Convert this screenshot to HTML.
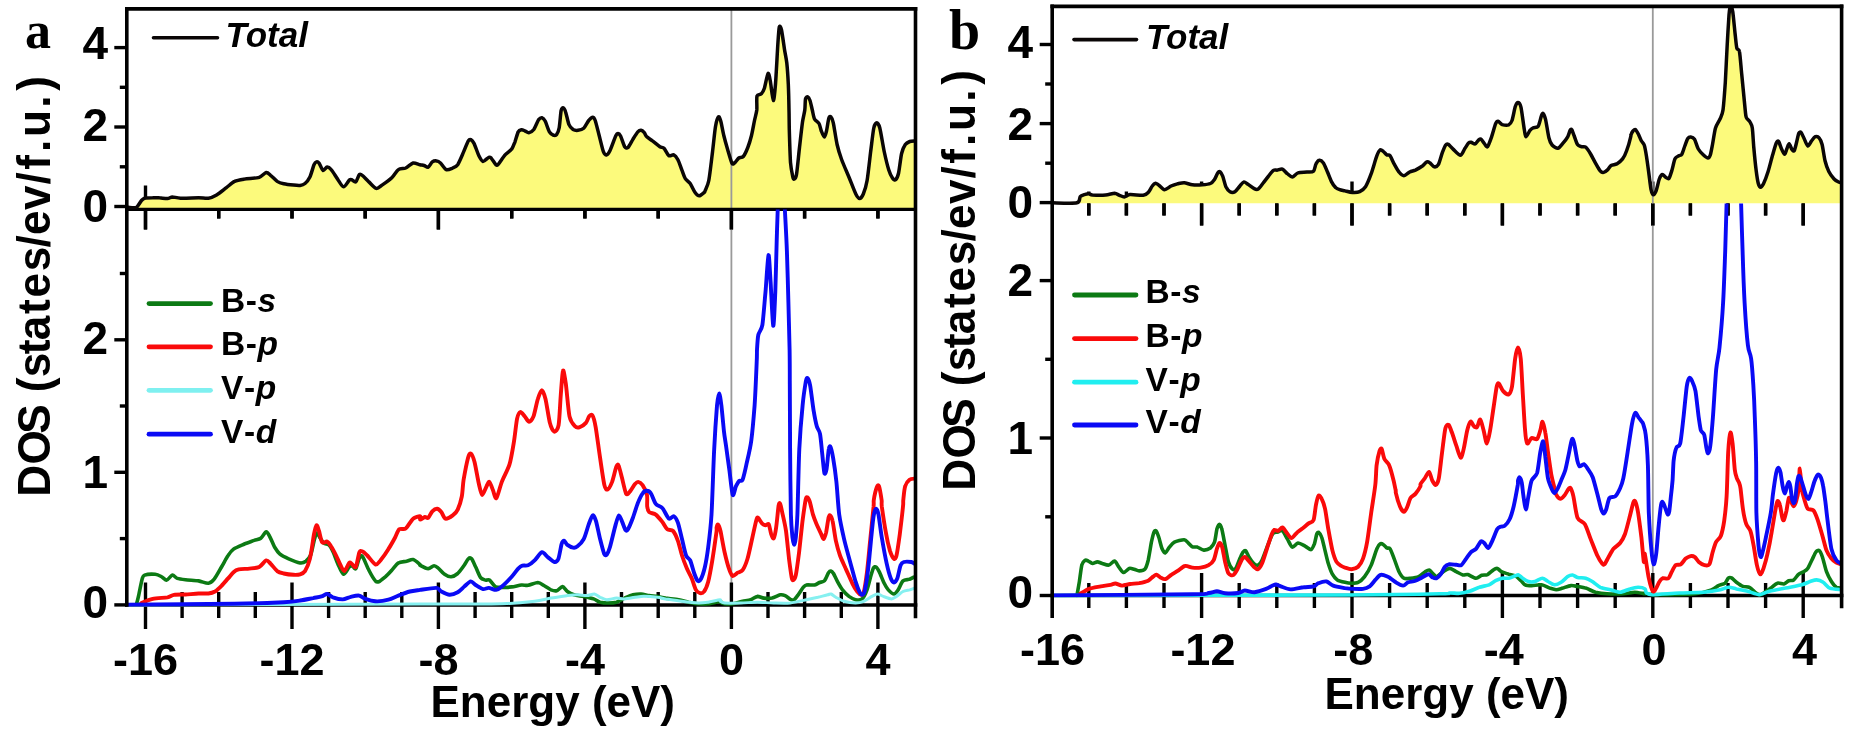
<!DOCTYPE html>
<html><head><meta charset="utf-8"><title>DOS</title>
<style>html,body{margin:0;padding:0;background:#fff}body{width:1850px;height:733px;overflow:hidden}</style>
</head><body>
<svg width="1850" height="733" viewBox="0 0 1850 733" style="display:block;filter:blur(0.6px)">
<rect width="1850" height="733" fill="#fff"/>
<clipPath id="cua"><rect x="126.8" y="8.9" width="788.7" height="199.3"/></clipPath>
<clipPath id="csa"><rect x="126.8" y="8.9" width="788.7" height="201.5"/></clipPath>
<clipPath id="cla"><rect x="126.8" y="209.4" width="788.7" height="397.6"/></clipPath>
<line x1="145.5" y1="185.5" x2="145.5" y2="229.5" stroke="#000" stroke-width="3.4" stroke-linecap="butt"/>
<line x1="218.7" y1="196.5" x2="218.7" y2="218.5" stroke="#000" stroke-width="3.4" stroke-linecap="butt"/>
<line x1="292" y1="196.5" x2="292" y2="218.5" stroke="#000" stroke-width="3.4" stroke-linecap="butt"/>
<line x1="365.2" y1="196.5" x2="365.2" y2="218.5" stroke="#000" stroke-width="3.4" stroke-linecap="butt"/>
<line x1="438.4" y1="185.5" x2="438.4" y2="229.5" stroke="#000" stroke-width="3.4" stroke-linecap="butt"/>
<line x1="511.7" y1="196.5" x2="511.7" y2="218.5" stroke="#000" stroke-width="3.4" stroke-linecap="butt"/>
<line x1="584.9" y1="196.5" x2="584.9" y2="218.5" stroke="#000" stroke-width="3.4" stroke-linecap="butt"/>
<line x1="658.2" y1="196.5" x2="658.2" y2="218.5" stroke="#000" stroke-width="3.4" stroke-linecap="butt"/>
<line x1="731.4" y1="185.5" x2="731.4" y2="229.5" stroke="#000" stroke-width="3.4" stroke-linecap="butt"/>
<line x1="804.6" y1="196.5" x2="804.6" y2="218.5" stroke="#000" stroke-width="3.4" stroke-linecap="butt"/>
<line x1="877.9" y1="196.5" x2="877.9" y2="218.5" stroke="#000" stroke-width="3.4" stroke-linecap="butt"/>
<g clip-path="url(#cua)">
<path d="M128.2 207.3C129.3 207.3 134.6 208.1 136.4 207.3C138.1 206.4 140.2 201.9 141.3 200.7C142.4 199.5 143 198.6 144.6 198.2C146.1 197.9 150.8 197.8 152.7 197.8C154.7 197.7 157.3 197.6 159.3 197.8C161.3 197.9 165.7 198.7 167.5 198.6C169.2 198.5 170.7 197 172.4 196.9C174.1 196.9 177.1 198.1 180.6 198.2C184.1 198.4 194.9 197.8 198.6 197.8C202.3 197.8 206 198.6 208.4 198.2C210.8 197.9 214.2 196.4 216.6 195C219 193.6 224 189.4 226.4 187.6C228.8 185.8 232.2 182.5 234.6 181.4C237 180.2 241.2 179.6 244.4 179.1C247.7 178.5 256.3 178.2 259.2 177.3C262.1 176.4 264.7 172.8 266.2 172.5C267.8 172.3 269.2 174.1 270.6 175.3C272.1 176.5 275.5 180.2 277.2 181.4C278.9 182.5 281.6 183.3 283.7 183.8C285.9 184.3 291.4 184.9 293.6 185.1C295.8 185.4 298.6 185.7 300.1 185.5C301.6 185.3 303.7 184.6 305 183.5C306.3 182.4 308.7 179.5 309.9 177C311.1 174.5 313.2 166.7 314 164.7C314.9 162.7 315.8 162.1 316.5 161.9C317.2 161.7 318.1 161.9 319 163C319.8 164.2 322 169.9 323 170.4C324.1 171 326 167.2 327.1 167.1C328.2 167 329.8 168 331.2 169.6C332.7 171.2 336.1 177.1 337.8 179.4C339.4 181.7 342 186.7 343.5 186.8C345 186.9 348.2 181.2 349.2 180.2C350.3 179.3 350.8 179.5 351.7 179.7C352.6 180 354.8 182.6 355.8 181.9C356.8 181.2 358.5 175.4 359.4 174.5C360.3 173.6 361.1 174.3 362.3 175.3C363.6 176.3 367 180.1 368.9 181.9C370.8 183.6 374.5 188 376.3 188.4C378 188.9 379.9 186.6 382 185.1C384.1 183.7 389.6 179.9 391.8 177.8C394 175.7 396.5 170.9 398.4 169.6C400.2 168.3 403.8 168.8 405.7 168C407.7 167.1 411.2 163.5 413.1 163C415 162.6 418.5 164.4 420 164.7C421.4 165 423 165.2 424.1 165.5C425.2 165.8 427.1 167.6 428.2 167.1C429.3 166.7 431.2 162.7 432.3 161.9C433.4 161.1 435.3 160.8 436.4 160.9C437.5 161.1 439.2 161.9 440.5 163C441.8 164.2 444.6 168.9 446.2 169.6C447.8 170.2 451.2 168.6 452.7 168C454.3 167.3 456.2 166.8 457.7 164.7C459.1 162.6 462 155.6 463.4 152.4C464.8 149.2 467.3 142.6 468.3 140.9C469.3 139.2 470 139.3 470.8 139.6C471.5 140 472.9 141.3 474 143.4C475.1 145.5 477.7 153.3 478.9 155.7C480.1 158.1 481.7 161.2 483 161.4C484.4 161.6 487.7 157.7 488.8 157.3C489.9 156.9 490.2 157.1 491.2 158.1C492.2 159.2 495.2 164.2 496.1 165C497.1 165.8 497.4 165.2 498.6 163.9C499.8 162.5 503.4 156.8 505.1 154.9C506.9 152.9 510.4 150.9 511.7 149.1C513 147.4 514.1 144 515 141.8C515.8 139.5 517.4 133.5 518.2 131.9C519.1 130.3 520.6 130 521.5 129.8C522.4 129.6 523.8 130.4 524.8 130.8C525.8 131.2 527.7 132.9 528.9 132.7C530.1 132.6 532.5 131.2 533.8 129.5C535.1 127.7 537.6 121.2 538.7 119.6C539.8 118.1 541.1 117.5 542 117.7C542.9 117.9 544.3 119.4 545.3 121.3C546.2 123.2 548.3 130.1 549.4 131.9C550.5 133.8 552.5 134.9 553.5 135.2C554.4 135.5 556 135.4 556.7 134.4C557.5 133.4 558.6 131 559.2 127.8C559.8 124.7 560.6 113.3 561.1 110.6C561.7 108 562.7 107.6 563.3 107.9C563.9 108.1 565 110.1 565.7 112.3C566.5 114.5 568 122.3 569 124.6C570 126.9 571.9 128.7 573.1 129.5C574.3 130.2 576.6 130.5 578 130.3C579.4 130.1 582.3 129.5 583.7 128.2C585.2 126.9 587.5 121.9 588.7 120.5C589.9 119 591.9 117.2 592.8 117.2C593.6 117.2 594.3 118 595.2 120.5C596.1 123 598.2 131.9 599.3 136C600.4 140.2 602.4 149.1 603.4 151.6C604.4 154.1 605.8 155 606.7 154.9C607.5 154.7 608.7 153.3 609.9 150.8C611.1 148.3 614.6 138.3 615.7 136C616.8 133.7 617.5 133.6 618.1 133.6C618.8 133.6 619.7 134.3 620.6 136C621.5 137.8 623.7 145.1 624.7 146.7C625.7 148.2 626.9 148.5 628 147.5C629 146.5 631.6 141.4 632.9 139.3C634.2 137.2 636.7 133.1 637.8 131.9C638.9 130.7 640.2 130.2 641.1 130.3C641.9 130.4 643.6 131.9 644.3 132.7C645.1 133.6 645.7 135.8 646.8 136.8C647.9 137.9 650.8 139.6 652.5 140.9C654.3 142.2 658.4 145.7 659.9 146.7C661.4 147.7 662.8 147.1 664 148.3C665.2 149.5 667.6 154.8 668.9 155.7C670.2 156.5 672.6 154.3 673.8 154.9C675 155.4 676.8 157.7 677.9 159.8C679 161.8 681 167.9 682 170.4C683 172.9 684.2 176.9 685.3 178.6C686.4 180.3 688.9 181.7 690.2 183.5C691.5 185.4 693.9 190.9 695.1 192.5C696.3 194.2 698 195.8 699.2 195.8C700.4 195.8 703.3 193.2 704.1 192.5C704.9 191.9 704.4 192.6 705 191C705.6 189.4 707.8 185.7 708.8 180.5C709.8 175.3 711.6 159.2 712.5 152C713.4 144.8 714.7 131.2 715.5 126.5C716.3 121.8 717.8 117.5 718.5 116.8C719.2 116.1 720.1 118.8 720.8 121.3C721.5 123.8 722.9 131.8 723.8 135.5C724.7 139.2 726.4 145.3 727.5 149C728.6 152.7 731 161.5 732 163.3C733 165.1 734.1 163.2 735 162.5C735.9 161.8 737.7 158.8 738.8 158C739.9 157.2 742.1 157.9 743.3 156.5C744.5 155.1 746.7 150.3 747.8 147.5C748.9 144.7 750.6 139.1 751.5 135.5C752.4 131.9 753.8 123.9 754.5 120.5C755.2 117.1 756.4 113.3 756.8 110C757.1 106.7 756.4 98.2 757 96C757.6 93.9 760.3 94.8 761.3 93.8C762.2 92.8 763.4 91.2 764.3 88.5C765.2 85.8 767.2 74.5 768 73.5C768.8 72.5 769.6 77.4 770.3 81C771 84.6 772.6 100.1 773.3 100.5C774 100.9 774.9 91.4 775.5 84C776.1 76.6 777.3 52.6 777.8 45C778.3 37.4 778.8 29 779.3 27C779.8 25 780.8 27 781.5 30C782.2 33 783.8 45.1 784.5 49.5C785.2 53.9 786.3 58.4 786.8 63C787.3 67.6 788 77.8 788.3 84C788.6 90.3 788.9 103.9 789 110C789.2 116.1 789.1 122.5 789.3 129.5C789.5 136.5 790.1 156.2 790.5 162.5C791 168.8 792.3 174.6 792.8 176.8C793.3 179 793.8 179.3 794.3 179C794.8 178.7 795.8 178.7 796.5 174.5C797.2 170.3 798.7 154.5 799.5 147.5C800.3 140.5 801.8 127 802.5 122C803.2 117 804.4 113.1 804.8 110C805.2 106.9 805.1 100.8 805.5 99C805.9 97.3 807.2 96.6 807.8 96.8C808.4 97 809.4 98.8 810 100.5C810.6 102.3 811.7 107.5 812.3 110C812.9 112.5 813.6 117.2 814.5 119C815.4 120.8 818.1 121.9 819 123.5C819.9 125.1 820.6 129.2 821.3 131C822 132.8 823.6 137 824.3 137C825 137 825.9 133.5 826.5 131C827.1 128.5 828.2 120.2 828.8 118.3C829.4 116.4 830.2 116.2 830.8 116.8C831.4 117.4 832.5 119.1 833.3 122.8C834.1 126.5 836 139.6 837.1 144.5C838.2 149.4 840 155.1 841.6 159.5C843.2 163.9 847.2 172.9 849.1 177.5C851 182.1 854.4 191.2 855.8 194C857.2 196.8 858.6 198.5 859.6 198.5C860.6 198.5 862.3 196.4 863.3 194C864.3 191.6 866.1 186.3 867.1 180.5C868.1 174.7 869.9 157.5 870.8 150.5C871.7 143.5 873 131.7 873.8 128C874.6 124.3 876 122.8 876.8 122.8C877.6 122.8 878.8 124.1 879.8 128C880.8 131.9 883.1 146.4 884.3 152C885.5 157.6 887.7 166.5 888.8 170C889.9 173.5 891.7 177 892.6 178.3C893.5 179.6 894.8 180.5 895.6 179.8C896.4 179.1 897.8 176.5 898.6 173C899.4 169.5 900.7 157.3 901.6 153.5C902.5 149.7 904.2 146.1 905.3 144.5C906.4 142.9 908.5 142 909.8 141.5C911.1 141 914.4 140.9 915.1 140.8L915.1 208.2L128.2 208.2Z" fill="#fcfa7c" stroke="none"/>
</g>
<line x1="731.4" y1="8.9" x2="731.4" y2="605" stroke="#9a9a9a" stroke-width="1.8" stroke-linecap="butt"/>
<line x1="145.5" y1="208.2" x2="145.5" y2="229.5" stroke="#000" stroke-width="3.4" stroke-linecap="butt"/>
<line x1="218.7" y1="208.2" x2="218.7" y2="218.5" stroke="#000" stroke-width="3.4" stroke-linecap="butt"/>
<line x1="292" y1="208.2" x2="292" y2="218.5" stroke="#000" stroke-width="3.4" stroke-linecap="butt"/>
<line x1="365.2" y1="208.2" x2="365.2" y2="218.5" stroke="#000" stroke-width="3.4" stroke-linecap="butt"/>
<line x1="438.4" y1="208.2" x2="438.4" y2="229.5" stroke="#000" stroke-width="3.4" stroke-linecap="butt"/>
<line x1="511.7" y1="208.2" x2="511.7" y2="218.5" stroke="#000" stroke-width="3.4" stroke-linecap="butt"/>
<line x1="584.9" y1="208.2" x2="584.9" y2="218.5" stroke="#000" stroke-width="3.4" stroke-linecap="butt"/>
<line x1="658.2" y1="208.2" x2="658.2" y2="218.5" stroke="#000" stroke-width="3.4" stroke-linecap="butt"/>
<line x1="731.4" y1="208.2" x2="731.4" y2="229.5" stroke="#000" stroke-width="3.4" stroke-linecap="butt"/>
<line x1="804.6" y1="208.2" x2="804.6" y2="218.5" stroke="#000" stroke-width="3.4" stroke-linecap="butt"/>
<line x1="877.9" y1="208.2" x2="877.9" y2="218.5" stroke="#000" stroke-width="3.4" stroke-linecap="butt"/>
<line x1="126.8" y1="209.4" x2="915.5" y2="209.4" stroke="#000" stroke-width="3.4" stroke-linecap="butt"/>
<g clip-path="url(#csa)">
<path d="M128.2 207.3C129.3 207.3 134.6 208.1 136.4 207.3C138.1 206.4 140.2 201.9 141.3 200.7C142.4 199.5 143 198.6 144.6 198.2C146.1 197.9 150.8 197.8 152.7 197.8C154.7 197.7 157.3 197.6 159.3 197.8C161.3 197.9 165.7 198.7 167.5 198.6C169.2 198.5 170.7 197 172.4 196.9C174.1 196.9 177.1 198.1 180.6 198.2C184.1 198.4 194.9 197.8 198.6 197.8C202.3 197.8 206 198.6 208.4 198.2C210.8 197.9 214.2 196.4 216.6 195C219 193.6 224 189.4 226.4 187.6C228.8 185.8 232.2 182.5 234.6 181.4C237 180.2 241.2 179.6 244.4 179.1C247.7 178.5 256.3 178.2 259.2 177.3C262.1 176.4 264.7 172.8 266.2 172.5C267.8 172.3 269.2 174.1 270.6 175.3C272.1 176.5 275.5 180.2 277.2 181.4C278.9 182.5 281.6 183.3 283.7 183.8C285.9 184.3 291.4 184.9 293.6 185.1C295.8 185.4 298.6 185.7 300.1 185.5C301.6 185.3 303.7 184.6 305 183.5C306.3 182.4 308.7 179.5 309.9 177C311.1 174.5 313.2 166.7 314 164.7C314.9 162.7 315.8 162.1 316.5 161.9C317.2 161.7 318.1 161.9 319 163C319.8 164.2 322 169.9 323 170.4C324.1 171 326 167.2 327.1 167.1C328.2 167 329.8 168 331.2 169.6C332.7 171.2 336.1 177.1 337.8 179.4C339.4 181.7 342 186.7 343.5 186.8C345 186.9 348.2 181.2 349.2 180.2C350.3 179.3 350.8 179.5 351.7 179.7C352.6 180 354.8 182.6 355.8 181.9C356.8 181.2 358.5 175.4 359.4 174.5C360.3 173.6 361.1 174.3 362.3 175.3C363.6 176.3 367 180.1 368.9 181.9C370.8 183.6 374.5 188 376.3 188.4C378 188.9 379.9 186.6 382 185.1C384.1 183.7 389.6 179.9 391.8 177.8C394 175.7 396.5 170.9 398.4 169.6C400.2 168.3 403.8 168.8 405.7 168C407.7 167.1 411.2 163.5 413.1 163C415 162.6 418.5 164.4 420 164.7C421.4 165 423 165.2 424.1 165.5C425.2 165.8 427.1 167.6 428.2 167.1C429.3 166.7 431.2 162.7 432.3 161.9C433.4 161.1 435.3 160.8 436.4 160.9C437.5 161.1 439.2 161.9 440.5 163C441.8 164.2 444.6 168.9 446.2 169.6C447.8 170.2 451.2 168.6 452.7 168C454.3 167.3 456.2 166.8 457.7 164.7C459.1 162.6 462 155.6 463.4 152.4C464.8 149.2 467.3 142.6 468.3 140.9C469.3 139.2 470 139.3 470.8 139.6C471.5 140 472.9 141.3 474 143.4C475.1 145.5 477.7 153.3 478.9 155.7C480.1 158.1 481.7 161.2 483 161.4C484.4 161.6 487.7 157.7 488.8 157.3C489.9 156.9 490.2 157.1 491.2 158.1C492.2 159.2 495.2 164.2 496.1 165C497.1 165.8 497.4 165.2 498.6 163.9C499.8 162.5 503.4 156.8 505.1 154.9C506.9 152.9 510.4 150.9 511.7 149.1C513 147.4 514.1 144 515 141.8C515.8 139.5 517.4 133.5 518.2 131.9C519.1 130.3 520.6 130 521.5 129.8C522.4 129.6 523.8 130.4 524.8 130.8C525.8 131.2 527.7 132.9 528.9 132.7C530.1 132.6 532.5 131.2 533.8 129.5C535.1 127.7 537.6 121.2 538.7 119.6C539.8 118.1 541.1 117.5 542 117.7C542.9 117.9 544.3 119.4 545.3 121.3C546.2 123.2 548.3 130.1 549.4 131.9C550.5 133.8 552.5 134.9 553.5 135.2C554.4 135.5 556 135.4 556.7 134.4C557.5 133.4 558.6 131 559.2 127.8C559.8 124.7 560.6 113.3 561.1 110.6C561.7 108 562.7 107.6 563.3 107.9C563.9 108.1 565 110.1 565.7 112.3C566.5 114.5 568 122.3 569 124.6C570 126.9 571.9 128.7 573.1 129.5C574.3 130.2 576.6 130.5 578 130.3C579.4 130.1 582.3 129.5 583.7 128.2C585.2 126.9 587.5 121.9 588.7 120.5C589.9 119 591.9 117.2 592.8 117.2C593.6 117.2 594.3 118 595.2 120.5C596.1 123 598.2 131.9 599.3 136C600.4 140.2 602.4 149.1 603.4 151.6C604.4 154.1 605.8 155 606.7 154.9C607.5 154.7 608.7 153.3 609.9 150.8C611.1 148.3 614.6 138.3 615.7 136C616.8 133.7 617.5 133.6 618.1 133.6C618.8 133.6 619.7 134.3 620.6 136C621.5 137.8 623.7 145.1 624.7 146.7C625.7 148.2 626.9 148.5 628 147.5C629 146.5 631.6 141.4 632.9 139.3C634.2 137.2 636.7 133.1 637.8 131.9C638.9 130.7 640.2 130.2 641.1 130.3C641.9 130.4 643.6 131.9 644.3 132.7C645.1 133.6 645.7 135.8 646.8 136.8C647.9 137.9 650.8 139.6 652.5 140.9C654.3 142.2 658.4 145.7 659.9 146.7C661.4 147.7 662.8 147.1 664 148.3C665.2 149.5 667.6 154.8 668.9 155.7C670.2 156.5 672.6 154.3 673.8 154.9C675 155.4 676.8 157.7 677.9 159.8C679 161.8 681 167.9 682 170.4C683 172.9 684.2 176.9 685.3 178.6C686.4 180.3 688.9 181.7 690.2 183.5C691.5 185.4 693.9 190.9 695.1 192.5C696.3 194.2 698 195.8 699.2 195.8C700.4 195.8 703.3 193.2 704.1 192.5C704.9 191.9 704.4 192.6 705 191C705.6 189.4 707.8 185.7 708.8 180.5C709.8 175.3 711.6 159.2 712.5 152C713.4 144.8 714.7 131.2 715.5 126.5C716.3 121.8 717.8 117.5 718.5 116.8C719.2 116.1 720.1 118.8 720.8 121.3C721.5 123.8 722.9 131.8 723.8 135.5C724.7 139.2 726.4 145.3 727.5 149C728.6 152.7 731 161.5 732 163.3C733 165.1 734.1 163.2 735 162.5C735.9 161.8 737.7 158.8 738.8 158C739.9 157.2 742.1 157.9 743.3 156.5C744.5 155.1 746.7 150.3 747.8 147.5C748.9 144.7 750.6 139.1 751.5 135.5C752.4 131.9 753.8 123.9 754.5 120.5C755.2 117.1 756.4 113.3 756.8 110C757.1 106.7 756.4 98.2 757 96C757.6 93.9 760.3 94.8 761.3 93.8C762.2 92.8 763.4 91.2 764.3 88.5C765.2 85.8 767.2 74.5 768 73.5C768.8 72.5 769.6 77.4 770.3 81C771 84.6 772.6 100.1 773.3 100.5C774 100.9 774.9 91.4 775.5 84C776.1 76.6 777.3 52.6 777.8 45C778.3 37.4 778.8 29 779.3 27C779.8 25 780.8 27 781.5 30C782.2 33 783.8 45.1 784.5 49.5C785.2 53.9 786.3 58.4 786.8 63C787.3 67.6 788 77.8 788.3 84C788.6 90.3 788.9 103.9 789 110C789.2 116.1 789.1 122.5 789.3 129.5C789.5 136.5 790.1 156.2 790.5 162.5C791 168.8 792.3 174.6 792.8 176.8C793.3 179 793.8 179.3 794.3 179C794.8 178.7 795.8 178.7 796.5 174.5C797.2 170.3 798.7 154.5 799.5 147.5C800.3 140.5 801.8 127 802.5 122C803.2 117 804.4 113.1 804.8 110C805.2 106.9 805.1 100.8 805.5 99C805.9 97.3 807.2 96.6 807.8 96.8C808.4 97 809.4 98.8 810 100.5C810.6 102.3 811.7 107.5 812.3 110C812.9 112.5 813.6 117.2 814.5 119C815.4 120.8 818.1 121.9 819 123.5C819.9 125.1 820.6 129.2 821.3 131C822 132.8 823.6 137 824.3 137C825 137 825.9 133.5 826.5 131C827.1 128.5 828.2 120.2 828.8 118.3C829.4 116.4 830.2 116.2 830.8 116.8C831.4 117.4 832.5 119.1 833.3 122.8C834.1 126.5 836 139.6 837.1 144.5C838.2 149.4 840 155.1 841.6 159.5C843.2 163.9 847.2 172.9 849.1 177.5C851 182.1 854.4 191.2 855.8 194C857.2 196.8 858.6 198.5 859.6 198.5C860.6 198.5 862.3 196.4 863.3 194C864.3 191.6 866.1 186.3 867.1 180.5C868.1 174.7 869.9 157.5 870.8 150.5C871.7 143.5 873 131.7 873.8 128C874.6 124.3 876 122.8 876.8 122.8C877.6 122.8 878.8 124.1 879.8 128C880.8 131.9 883.1 146.4 884.3 152C885.5 157.6 887.7 166.5 888.8 170C889.9 173.5 891.7 177 892.6 178.3C893.5 179.6 894.8 180.5 895.6 179.8C896.4 179.1 897.8 176.5 898.6 173C899.4 169.5 900.7 157.3 901.6 153.5C902.5 149.7 904.2 146.1 905.3 144.5C906.4 142.9 908.5 142 909.8 141.5C911.1 141 914.4 140.9 915.1 140.8" fill="none" stroke="#0a0606" stroke-width="3.5" stroke-linejoin="round" stroke-linecap="round"/>
</g>
<line x1="125" y1="605" x2="917.3" y2="605" stroke="#000" stroke-width="3.6" stroke-linecap="butt"/>
<line x1="145.5" y1="582.5" x2="145.5" y2="629" stroke="#000" stroke-width="3.4" stroke-linecap="butt"/>
<line x1="182.1" y1="592" x2="182.1" y2="618" stroke="#000" stroke-width="3.4" stroke-linecap="butt"/>
<line x1="218.7" y1="592" x2="218.7" y2="618" stroke="#000" stroke-width="3.4" stroke-linecap="butt"/>
<line x1="255.3" y1="592" x2="255.3" y2="618" stroke="#000" stroke-width="3.4" stroke-linecap="butt"/>
<line x1="292" y1="582.5" x2="292" y2="629" stroke="#000" stroke-width="3.4" stroke-linecap="butt"/>
<line x1="328.6" y1="592" x2="328.6" y2="618" stroke="#000" stroke-width="3.4" stroke-linecap="butt"/>
<line x1="365.2" y1="592" x2="365.2" y2="618" stroke="#000" stroke-width="3.4" stroke-linecap="butt"/>
<line x1="401.8" y1="592" x2="401.8" y2="618" stroke="#000" stroke-width="3.4" stroke-linecap="butt"/>
<line x1="438.4" y1="582.5" x2="438.4" y2="629" stroke="#000" stroke-width="3.4" stroke-linecap="butt"/>
<line x1="475.1" y1="592" x2="475.1" y2="618" stroke="#000" stroke-width="3.4" stroke-linecap="butt"/>
<line x1="511.7" y1="592" x2="511.7" y2="618" stroke="#000" stroke-width="3.4" stroke-linecap="butt"/>
<line x1="548.3" y1="592" x2="548.3" y2="618" stroke="#000" stroke-width="3.4" stroke-linecap="butt"/>
<line x1="584.9" y1="582.5" x2="584.9" y2="629" stroke="#000" stroke-width="3.4" stroke-linecap="butt"/>
<line x1="621.5" y1="592" x2="621.5" y2="618" stroke="#000" stroke-width="3.4" stroke-linecap="butt"/>
<line x1="658.2" y1="592" x2="658.2" y2="618" stroke="#000" stroke-width="3.4" stroke-linecap="butt"/>
<line x1="694.8" y1="592" x2="694.8" y2="618" stroke="#000" stroke-width="3.4" stroke-linecap="butt"/>
<line x1="731.4" y1="582.5" x2="731.4" y2="629" stroke="#000" stroke-width="3.4" stroke-linecap="butt"/>
<line x1="768" y1="592" x2="768" y2="618" stroke="#000" stroke-width="3.4" stroke-linecap="butt"/>
<line x1="804.6" y1="592" x2="804.6" y2="618" stroke="#000" stroke-width="3.4" stroke-linecap="butt"/>
<line x1="841.3" y1="592" x2="841.3" y2="618" stroke="#000" stroke-width="3.4" stroke-linecap="butt"/>
<line x1="877.9" y1="582.5" x2="877.9" y2="629" stroke="#000" stroke-width="3.4" stroke-linecap="butt"/>
<g clip-path="url(#cla)" fill="none" stroke-linejoin="round" stroke-linecap="round">
<path d="M136.4 604.6C136.7 603.3 138.1 598.2 138.8 594.8C139.6 591.4 141.3 581.9 142.1 579.2C142.9 576.6 142.8 575.8 144.6 575.1C146.3 574.5 152.9 574.1 155.2 574.3C157.5 574.5 160.2 576 161.8 576.8C163.3 577.5 165.2 580.3 166.7 580.1C168.1 579.8 171 575.4 172.4 575.1C173.8 574.9 175.6 577.8 177.3 578.4C179.1 579 182.7 579.4 185.5 579.7C188.3 580.1 195.5 580.4 198.6 580.9C201.7 581.4 206.3 583.6 208.4 583.3C210.5 583.1 212.4 581.4 214.2 579.2C215.9 577.1 219.7 570.1 221.5 567C223.4 563.8 226.4 557.9 228.1 555.5C229.7 553.1 231.6 550.5 233.8 548.9C236 547.4 241.7 545.2 244.4 544C247.2 542.9 252.1 541.2 254.3 540.4C256.5 539.7 259.2 539.5 260.8 538.3C262.4 537.1 265 532 266.2 531.8C267.4 531.5 268.7 534.6 269.8 536.7C271 538.7 273.4 545 274.7 547.3C276.1 549.6 277.8 552.3 279.7 553.9C281.5 555.4 285.9 557.6 288.7 558.8C291.4 560 297.8 562.5 300.1 562.9C302.4 563.2 304.4 562.3 305.9 561.2C307.3 560.1 309.6 557.6 310.8 554.7C311.9 551.7 313.7 542 314.5 539.1C315.4 536.2 316.3 533.1 317 532.9C317.7 532.7 318.9 536.1 319.8 537.5C320.7 538.9 322.7 542.2 323.9 543.2C325.1 544.2 327.6 543.8 328.8 544.9C330 545.9 331.7 548.9 332.9 551.4C334.1 553.9 336.4 560.6 337.8 563.7C339.2 566.7 342 573.9 343.5 574.3C345 574.8 348 568.1 349.2 567C350.4 565.9 351.6 565.9 352.5 566.1C353.4 566.4 354.9 569.6 355.8 568.6C356.7 567.6 358.2 560.4 359.1 558.8C359.9 557.1 361 554.8 362.3 556.3C363.7 557.8 367.1 567 368.9 570.2C370.6 573.5 374.1 579.4 375.4 580.9C376.8 582.4 377.4 582.2 378.7 581.7C380 581.2 383.5 578.3 385.3 576.8C387 575.3 390.1 572.1 391.8 570.2C393.6 568.4 396.4 564.1 398.4 562.9C400.3 561.7 404.6 561.7 406.6 561.2C408.5 560.8 411.3 559.2 413.1 559.6C414.9 560 419 563.7 420 564.5C420.9 565.3 419.1 564.8 420.2 565.3C421.3 565.9 426.4 568.6 428.2 568.6C430 568.6 432.6 565.8 433.9 565.7C435.2 565.5 436.6 566.6 438 567.8C439.4 568.9 442.8 573.1 444.6 574.3C446.3 575.5 449.4 576.9 451.1 576.8C452.9 576.7 455.9 575 457.7 573.5C459.4 572 462.8 567.3 464.2 565.3C465.6 563.4 467.3 559.6 468.3 558.8C469.3 557.9 470.6 557.7 471.6 558.8C472.6 559.9 474.5 564.5 475.7 567C476.9 569.5 479.3 575.9 480.6 577.6C481.9 579.4 484.3 579.7 485.5 580.1C486.7 580.4 488.3 579.2 489.6 580.1C490.9 580.9 493.7 585.6 495.3 586.6C497 587.6 499.7 587.4 501.9 587.4C504.1 587.5 509.1 587.3 511.7 586.9C514.3 586.6 519.3 585.2 521.5 585C523.7 584.8 525.9 585.6 528.1 585.3C530.3 585 535.7 582.5 537.9 582.5C540.1 582.6 542.7 584.8 544.4 585.8C546.2 586.8 549.4 589.2 551 589.9C552.6 590.5 555.2 591.1 556.7 590.7C558.3 590.3 561 586.5 562.5 586.6C563.9 586.7 565.8 590.4 567.4 591.5C568.9 592.6 571.7 594.1 573.9 594.8C576.1 595.5 581.1 595.9 583.7 596.4C586.4 597 591.4 598.1 593.6 598.9C595.8 599.7 598.2 601.6 600.1 602.2C602.1 602.7 606.1 603 608.3 603C610.5 603 614.3 602.8 616.5 602.2C618.7 601.5 622.5 599.1 624.7 598.1C626.9 597.1 630.7 595.3 632.9 594.8C635.1 594.3 638.9 593.9 641.1 594C643.2 594.1 647.1 595.3 649.2 595.6C651.4 595.9 655.2 596.1 657.4 596.4C659.6 596.8 662.8 597.6 665.6 598.1C668.5 598.5 675.7 599.2 678.7 599.7C681.8 600.3 685.9 601.6 688.5 602.2C691.2 602.7 695.7 603.6 698.4 603.8C701 604 705.3 604.1 708.2 603.8C711.1 603.5 718.4 601.6 720 601.3C721.6 601.1 719.6 601.8 720.2 602.2C720.8 602.5 722.9 603.6 724.6 603.8C726.2 604 730.3 604.1 732.7 603.8C735.2 603.5 740.2 601.9 742.6 601.3C745 600.8 748.8 600.4 750.8 599.7C752.7 599.1 755.6 596.7 757.3 596.4C759.1 596.2 761.9 597.9 763.9 598.1C765.8 598.3 769.9 598.5 772 598.1C774.2 597.6 778.5 595.1 780.2 594.8C782 594.5 783.7 595 785.1 595.6C786.6 596.3 789.7 599.2 790.9 599.7C792.1 600.3 793.2 600.4 794.2 599.7C795.1 599.1 797 596.4 798.2 594.8C799.4 593.2 802.1 588.7 803.2 587.4C804.3 586.1 804.9 585.3 806.4 585C808 584.6 812.9 585.3 814.6 585C816.4 584.6 818.2 583.1 819.5 582.5C820.8 582 823.2 582.2 824.4 580.9C825.6 579.6 827.7 574 828.5 572.7C829.4 571.4 830.3 570.9 831 571.1C831.7 571.2 832.6 572.1 833.5 573.5C834.3 574.9 836.3 579.5 837.5 581.7C838.7 583.9 840.9 587.9 842.5 589.9C844 591.9 847.3 595.1 849 596.4C850.8 597.7 853.8 599.4 855.6 599.7C857.3 600 860.6 600.2 862.1 598.9C863.6 597.6 865.8 593.1 867 589.9C868.2 586.7 870.2 578.1 871.1 575.1C872 572.2 872.9 568.9 873.6 567.8C874.2 566.7 875.3 566.4 876 567C876.8 567.5 878.2 569.7 879.3 571.9C880.4 574.1 883 580.9 884.2 583.3C885.4 585.7 887 588.5 888.3 589.9C889.6 591.3 892.7 594 894 594C895.3 594 896.9 591.6 898.1 589.9C899.3 588.1 901.5 582.3 903 580.9C904.6 579.5 908.1 579.8 909.6 579.2C911.1 578.7 913.9 577.1 914.5 576.8" stroke="#0c7a14" stroke-width="3.6"/>
<path d="M128.2 605C167.1 604.8 370.2 604.3 420 604.1C469.8 604 486.6 604.2 501.9 603.8C517.2 603.4 528.1 602.1 534.6 601.3C541.2 600.6 546.6 598.8 551 598.1C555.4 597.3 563.9 596.1 567.4 595.6C570.9 595.2 574.6 594.8 577.2 594.8C579.8 594.8 584.7 595.7 587 595.6C589.3 595.5 592.6 593.8 594.4 594C596.1 594.2 598.5 596.5 600.1 597.3C601.8 598 604.5 599.6 606.7 599.7C608.9 599.8 614.1 598.2 616.5 598.1C618.9 598 621.4 599.1 624.7 598.9C628 598.7 636.7 596.7 641.1 596.4C645.4 596.2 654.2 596.9 657.4 597.3C660.7 597.6 662.3 598.3 665.6 598.9C668.9 599.4 677.6 600.8 682 601.3C686.4 601.9 694.9 602.9 698.4 603C701.9 603.1 705.3 602.6 708.2 602.2C711.1 601.7 718.4 599.8 720 599.7C721.6 599.6 719.6 600.9 720.2 601.3C720.8 601.8 721.8 602.8 724.6 603C727.3 603.2 736.6 603.1 740.9 603C745.3 602.9 752.9 602.2 757.3 602.2C761.7 602.2 769.3 602.9 773.7 603C778.1 603.1 785.7 603.4 790.1 603C794.4 602.5 802.7 600.5 806.4 599.7C810.1 598.9 815.1 597.9 817.9 597.3C820.7 596.6 826 595.2 827.7 594.8C829.5 594.4 829.9 593.7 831 594C832.1 594.3 834.2 596.3 835.9 597.3C837.7 598.2 841.5 600.6 844.1 601.3C846.7 602.1 852.9 603 855.6 603C858.2 603 861.6 602.2 863.7 601.3C865.9 600.5 870.1 597.4 871.9 596.4C873.8 595.5 876.1 594 877.7 594C879.2 594 881.5 595.8 883.4 596.4C885.3 597.1 889.8 598.9 891.6 598.9C893.3 598.9 895 597.4 896.5 596.4C898 595.5 901.3 592.4 903 591.5C904.8 590.6 908.1 590.3 909.6 589.9C911.1 589.4 913.9 588.5 914.5 588.2" stroke="#86f0f0" stroke-width="3"/>
<path d="M141.3 603C142.8 602.4 149.3 599.7 152.7 598.9C156.2 598.1 164.6 597.8 167.5 597.3C170.3 596.7 171.6 595.2 174 594.8C176.4 594.4 182.2 594.6 185.5 594.5C188.8 594.3 195.5 593.6 198.6 593.5C201.7 593.4 206.2 593.7 208.4 593.5C210.6 593.2 213.2 592.5 215 591.5C216.7 590.5 219.8 587.5 221.5 585.8C223.3 584 226.4 580.3 228.1 578.4C229.7 576.6 232.4 573.1 233.8 571.9C235.2 570.7 236.6 569.9 238.7 569.4C240.8 569 246.6 568.9 249.4 568.6C252.1 568.3 256.9 568.1 259.2 567C261.4 565.9 264.7 560.8 266.2 560.4C267.8 560 269.2 562.3 270.6 563.7C272.1 565.1 275.5 569.7 277.2 571.1C278.9 572.4 281.6 573 283.7 573.5C285.9 574 291.4 574.7 293.6 574.8C295.8 574.9 298.6 574.8 300.1 574.3C301.6 573.8 303.7 573.1 305 571.1C306.3 569 308.7 563.7 309.9 558.8C311.1 553.9 313.2 538.7 314 534.2C314.9 529.7 315.8 525.6 316.5 525.2C317.2 524.8 318.2 528.6 319 530.9C319.7 533.2 321.1 541 322.2 542.4C323.3 543.8 325.9 541 327.1 541.6C328.3 542.1 330 544.6 331.2 546.5C332.4 548.3 334.9 553.1 336.1 555.5C337.3 557.9 339.1 562.4 340.2 564.5C341.3 566.6 343.1 571.3 344.3 571.1C345.5 570.8 348.3 563.8 349.2 562.9C350.2 561.9 350.8 563.1 351.7 563.7C352.6 564.2 354.8 568.5 355.8 567C356.8 565.4 358.5 554.3 359.4 552.2C360.3 550.1 361.3 551 362.3 551.4C363.4 551.8 365.5 553.8 367.3 555.5C369 557.2 373.7 563.8 375.4 564.5C377.2 565.2 378.6 562.5 380.4 560.4C382.1 558.3 386.6 552 388.5 548.9C390.5 545.9 393.7 540.1 395.1 537.5C396.5 534.9 397.8 530.5 399.2 529.3C400.6 528.1 403.9 529.9 405.7 528.5C407.6 527.1 411.2 520.3 413.1 518.7C415 517 419 516.1 420 516.2C420.9 516.3 419.6 519.4 420.2 519.5C420.9 519.6 423.9 517.2 424.9 517C426 516.8 427.2 518.6 428.2 517.8C429.2 517.1 431.1 512.5 432.3 511.3C433.5 510.1 436 508.7 437.2 508.8C438.4 508.9 440.2 510.8 441.3 512.1C442.4 513.4 443.9 518.2 445.4 518.7C446.9 519.1 451.1 516.6 452.7 515.4C454.4 514.2 456.5 512.2 457.7 509.6C458.9 507.1 461 500.5 461.8 496.5C462.6 492.6 462.8 484.8 463.6 479.7C464.5 474.5 467.1 461.3 468 457.9C469 454.4 470 452.9 470.9 453.5C471.7 454.1 473.5 458.1 474.6 462.2C475.6 466.3 477.9 479.7 478.9 484C479.9 488.4 481.2 494.7 482.2 495C483.2 495.2 485.6 488 486.6 486.2C487.5 484.5 488.5 481.3 489.4 481.9C490.3 482.4 492.2 488.4 493.1 490.6C494 492.8 495.2 499.4 496.4 498.2C497.5 497.1 500.1 486.4 501.8 481.9C503.6 477.3 507.9 469.6 509.5 464.4C511.1 459.2 512.8 448.7 513.8 442.6C514.9 436.5 516.2 422.6 517.1 418.6C518 414.5 519.4 412.3 520.4 412C521.4 411.7 523.6 415.1 524.8 416.4C525.9 417.7 528 421.8 529.1 421.8C530.3 421.8 532.3 419.4 533.5 416.4C534.7 413.3 536.7 402.4 537.9 398.9C539 395.4 540.8 390.2 541.8 390.2C542.8 390.2 544.4 394.6 545.5 398.9C546.6 403.3 548.7 418.6 549.9 422.9C551 427.3 553.1 431.4 554.2 431.7C555.4 432 557.7 430.1 558.6 425.1C559.5 420.2 560.2 401.8 560.8 394.6C561.4 387.3 562.3 372 563 370.6C563.6 369.1 564.9 377.5 565.8 383.6C566.7 389.8 568.3 410.7 569.5 416.4C570.7 422.1 573.6 424.8 575 426.2C576.3 427.7 577.9 427.7 579.3 427.3C580.8 426.9 584.6 424.4 585.9 422.9C587.2 421.5 588.3 417.4 589.1 416.4C590 415.4 591.5 413.8 592.4 415.3C593.3 416.7 594.7 421.6 595.7 427.3C596.7 433 598.9 450.1 600.1 457.9C601.2 465.6 603.4 480.9 604.4 485.1C605.4 489.4 606.7 489.9 607.7 489.5C608.7 489.1 610.9 484.9 612.1 481.9C613.2 478.8 615.5 468.8 616.4 466.6C617.3 464.4 617.9 464 618.6 465.5C619.3 466.9 620.9 473.7 621.9 477.5C622.9 481.3 625.1 492.1 626.2 493.9C627.4 495.6 629.4 491.9 630.6 490.6C631.8 489.3 634 485.2 635 484C636 482.9 637.2 481.7 638.2 481.9C639.3 482 641.4 483.4 642.6 485.1C643.8 486.9 646.4 492.1 647 495C647.6 497.8 646.9 504.1 647.2 506.4C647.5 508.7 648.1 511 649.2 512.1C650.4 513.2 654 513.3 655.8 514.6C657.5 515.9 660.8 520 662.3 521.9C663.9 523.9 665.8 528.1 667.3 529.3C668.7 530.5 671.6 529.4 673 530.9C674.4 532.5 676.7 537.5 677.9 540.8C679.1 544 680.8 551.8 682 555.5C683.2 559.2 685.6 565.5 686.9 568.6C688.2 571.7 690.6 575.6 691.8 578.4C693 581.3 694.8 587.9 695.9 589.9C697 591.9 698.9 592.9 700 593.2C701.1 593.4 703 593.1 704.1 591.5C705.2 590 707.1 585.8 708.2 581.7C709.3 577.5 711.2 567 712.3 560.4C713.4 553.9 715.8 536.9 716.4 532.6C717 528.2 716.4 528.8 716.6 527.7C716.8 526.6 717.5 524 718 524.4C718.5 524.8 719.6 527.2 720.5 530.9C721.3 534.6 723.4 547 724.6 552.2C725.8 557.5 728.4 567.1 729.5 570.2C730.6 573.4 731.7 575.6 732.7 576C733.8 576.3 736.4 573.5 737.7 572.7C739 571.9 741.3 572.1 742.6 570.2C743.9 568.4 746.2 563.1 747.5 558.8C748.8 554.4 751.2 542.7 752.4 537.5C753.6 532.2 755.7 522.1 756.5 519.5C757.3 516.9 757.4 517.3 758.1 517.8C758.9 518.4 761.2 522.6 762.2 523.6C763.2 524.6 764.6 525.1 765.5 525.2C766.4 525.3 768 523.2 768.8 524.4C769.5 525.6 770.6 532.4 771.2 534.2C771.9 536.1 773 539.2 773.7 538.3C774.3 537.4 775.5 532 776.1 527.7C776.8 523.3 778.1 508.7 778.6 505.6C779.1 502.4 779.7 502.7 780.2 503.9C780.8 505.1 781.9 511 782.7 514.6C783.5 518.2 785.1 524.8 786 530.9C786.8 537 788.5 554.2 789.2 560.4C790 566.6 791.2 575 791.7 577.6C792.2 580.2 792.8 580.4 793.3 580.1C793.9 579.7 795 578.9 795.8 575.1C796.6 571.4 798.2 559.2 799.1 552.2C799.9 545.2 801.5 529.7 802.3 522.7C803.2 515.8 805 503.2 805.6 499.8C806.3 496.4 806.7 497.2 807.3 497.4C807.8 497.6 808.9 499.2 809.7 501.5C810.5 503.8 812.1 511.6 813 514.6C813.9 517.5 815.2 520.9 816.3 523.6C817.4 526.2 820.2 532.1 821.2 534.2C822.2 536.3 823 539.3 823.6 539.1C824.3 538.9 825.4 535.4 826.1 532.6C826.7 529.7 828 520.1 828.5 517.8C829.1 515.5 829.6 514.9 830.2 515.4C830.7 515.8 831.9 517.7 832.6 521.1C833.4 524.5 834.9 536.2 835.9 540.8C836.9 545.3 838.7 551.8 840 555.5C841.3 559.2 844.1 564.9 845.7 568.6C847.4 572.3 850.8 580.3 852.3 583.3C853.8 586.4 856 590 857.2 591.5C858.4 593.1 860.4 594.7 861.3 594.8C862.2 594.9 863 595.4 863.7 592.3C864.5 589.3 866.1 579 867 571.9C867.9 564.8 869.4 547.9 870.3 539.1C871.2 530.4 873.1 511.6 873.6 506.4C874 501.2 873.4 502.5 873.8 500C874.2 497.4 876.1 489.1 876.8 487.3C877.5 485.5 878.3 484.5 879 486.2C879.6 487.9 881.2 497.3 881.6 500C882 502.7 881.3 502 881.8 506.4C882.4 510.7 884.8 526.7 885.9 532.6C886.9 538.5 888.9 547.1 889.9 550.6C891 554.1 893.2 558.1 894 558.8C894.9 559.4 895.7 558.8 896.5 555.5C897.3 552.2 898.9 540.8 899.8 534.2C900.6 527.7 902.6 510.9 903 506.4C903.5 501.8 903 502.7 903.3 500C903.6 497.3 904.3 488.9 905.2 486.2C906 483.5 908.2 480.7 909.5 479.7C910.8 478.7 914.2 478.7 915 478.6" stroke="#fa0a0a" stroke-width="3.9"/>
<path d="M128.2 604.6C142.4 604.5 213.9 604.1 234.6 603.8C255.4 603.5 275 602.6 283.7 602.2C292.5 601.7 296.2 601.1 300.1 600.5C304.1 600 310.4 598.6 313.2 598.1C316.1 597.5 319.6 597 321.4 596.4C323.3 595.9 325.6 593.9 327.1 594C328.7 594.1 330.8 596.5 332.9 597.3C334.9 598 340.3 599.4 342.7 599.4C345.1 599.3 348.7 597.3 350.9 596.8C353.1 596.3 357.1 595.3 359.1 595.6C361 595.9 363.4 598.1 365.6 598.9C367.8 599.7 372.4 601.2 375.4 601.3C378.5 601.5 385.5 600.5 388.5 599.7C391.6 598.9 395.5 596.7 398.4 595.6C401.2 594.5 406.9 592.3 409.8 591.5C412.7 590.8 416.4 590.4 420 589.9C423.5 589.4 433.5 587.7 436.4 587.9C439.2 588.1 439.5 590.6 441.3 591.5C443 592.4 447.3 594.7 449.5 594.8C451.7 594.9 455.7 593.4 457.7 592.3C459.6 591.2 462.5 588.1 464.2 586.6C466 585.1 469.2 581.6 470.8 581.4C472.3 581.2 474 583.9 475.7 585C477.3 586 481.3 588.7 483 589.1C484.8 589.5 487 587.8 488.8 587.9C490.5 588 494.4 590.1 496.1 589.9C497.9 589.7 499.8 588.4 501.9 586.6C503.9 584.9 509.5 579.2 511.7 576.8C513.9 574.4 516.8 570.1 518.2 568.6C519.7 567.1 521 566.1 522.3 565.7C523.7 565.2 526.4 566 528.1 565.3C529.7 564.6 532.8 562.2 534.6 560.4C536.5 558.7 540.2 552.7 542 552.2C543.7 551.8 546.1 555.8 547.7 557.1C549.4 558.4 552.9 561.8 554.3 562C555.7 562.3 557.4 561.2 558.4 558.8C559.3 556.4 560.9 546.4 561.6 544C562.4 541.6 563.3 540.7 564.1 540.8C564.9 540.9 566.2 543.9 567.4 544.9C568.6 545.8 571.8 547.4 573.1 547.6C574.4 547.9 575.8 547.6 577.2 546.5C578.6 545.4 582.2 542.1 583.7 539.1C585.3 536.2 587.5 527.6 588.7 524.4C589.9 521.2 591.8 515.8 592.8 515.4C593.7 514.9 595 517.9 596 521.1C597 524.3 599 534.8 600.1 539.1C601.2 543.5 603.3 551.8 604.2 553.9C605.1 555.9 605.9 555.6 606.7 554.7C607.4 553.8 608.7 551.4 609.9 547.3C611.1 543.3 614.5 528.6 615.7 524.4C616.9 520.1 618.1 515.7 619 515.4C619.8 515.1 621.4 520 622.2 521.9C623.1 523.9 624.7 529.1 625.5 530.1C626.3 531.1 627 530.9 628 529.3C628.9 527.7 631.6 521.3 632.9 517.8C634.2 514.3 636.5 506.4 637.8 503.1C639.1 499.8 641.5 494.9 642.7 493.3C643.9 491.6 645.7 490.8 646.8 490.8C647.9 490.8 649.7 491.5 650.9 493.3C652.1 495 654.3 502 655.8 503.9C657.3 505.9 660.6 506 662.3 508C664.1 510 667.4 517.6 668.9 518.7C670.4 519.7 672.6 515.7 673.8 516.2C675 516.7 676.8 519.7 677.9 522.7C679 525.8 680.9 534.8 682 539.1C683.1 543.5 685 552.7 686.1 555.5C687.2 558.3 689.1 558 690.2 560.4C691.3 562.8 693.3 570.8 694.3 573.5C695.3 576.2 696.7 580.1 697.6 580.9C698.4 581.6 699.8 581.1 700.8 579.2C701.8 577.4 703.9 571.2 704.9 567C705.9 562.7 707.3 554.3 708.2 547.3C709.1 540.3 710.7 527.7 711.5 514.6C712.3 501.5 713.4 463.7 714.2 449.1C714.9 434.6 716.4 412.9 717 405.5C717.7 398.1 718.6 393.5 719.2 393.5C719.8 393.5 720.7 400.4 721.4 405.5C722 410.6 723.4 426.1 724 431.7C724.6 437.2 725.5 441.7 726.2 446.9C726.9 452.2 728.6 464.5 729.5 470.9C730.3 477.3 731.9 492.9 732.7 495C733.6 497 735.1 488.1 736 486.2C736.9 484.3 738.4 481.6 739.3 480.8C740.2 479.9 741.5 482.2 742.6 479.7C743.6 477.2 745.8 467.5 746.9 462.2C748.1 457 750.3 448 751.3 440.4C752.3 432.8 753.8 415.9 754.6 405.5C755.3 395 756.4 369.2 756.7 361.8C757.1 354.4 756.8 353.5 757 349.9C757.2 346.4 757.6 338.4 758.3 335C759 331.6 761.4 330.5 762.4 324.8C763.3 319 764.6 301.3 765.5 292C766.3 282.8 767.8 256.6 768.5 255.2C769.2 253.9 769.9 272.4 770.6 281.8C771.2 291.2 772.6 324.4 773.2 325.8C773.9 327.2 774.8 303.4 775.3 292C775.7 280.7 776.4 251.8 776.7 240.9C777 230 777.5 216.8 777.7 210.2C778 203.7 777.7 194.3 778.5 191.8C779.4 189.4 783 189.4 783.9 191.8C784.7 194.3 784.5 202.3 784.9 210.2C785.3 218.1 786.5 238.9 786.9 251.1C787.4 263.4 788 289.1 788.4 302.3C788.7 315.4 789.4 339.1 789.6 349.9C789.8 360.8 789.8 370.4 789.8 383.6C789.9 396.9 790 431.7 790.1 449.1C790.2 466.6 790.6 502.8 790.9 514.6C791.2 526.3 792.1 533.4 792.5 537.5C793 541.5 793.7 544.9 794.2 544.9C794.6 544.9 795.4 541.5 795.8 537.5C796.2 533.4 797 526.3 797.4 514.6C797.9 502.8 798.6 463.7 799.3 449.1C800 434.6 801.7 414.5 802.6 405.5C803.4 396.5 805.2 385.1 805.8 381.5C806.5 377.8 807 377.6 807.6 378.2C808.2 378.8 809.4 381.6 810.2 385.8C811 390.1 812.6 404.5 813.5 409.8C814.4 415.2 815.9 423 816.8 426.2C817.6 429.4 819.3 430.2 820 433.8C820.8 437.5 821.6 448.2 822.2 453.5C822.8 458.7 823.8 471.1 824.4 473.1C825 475.2 826 472 826.6 468.8C827.2 465.6 828.2 452 828.8 449.1C829.3 446.2 829.9 445.8 830.5 446.9C831.1 448.1 832.3 453.2 833.1 457.9C833.9 462.5 835.6 474.3 836.4 481.9C837.2 489.4 838.2 506.9 839.2 514.6C840.2 522.2 842.6 532.6 844.1 539.1C845.6 545.7 849.1 558 850.6 563.7C852.2 569.4 854.4 577.9 855.6 581.7C856.8 585.5 858.8 590.6 859.7 592.3C860.5 594.1 861.5 594.9 862.1 594.8C862.8 594.7 863.8 594.6 864.6 591.5C865.3 588.5 867 578.9 867.8 571.9C868.7 564.9 870.4 546.5 871.1 539.1C871.9 531.7 872.9 520.2 873.6 516.2C874.2 512.2 875.4 509 876 508.8C876.7 508.6 877.7 510.7 878.5 514.6C879.2 518.4 880.7 530.9 881.8 537.5C882.9 544 885.5 558.2 886.7 563.7C887.9 569.1 889.8 575.9 890.8 578.4C891.7 580.9 893.2 582.5 894 582.5C894.9 582.5 896.4 580.7 897.3 578.4C898.2 576.1 899.7 567.5 900.6 565.3C901.5 563.1 902.4 562.5 903.9 562C905.3 561.6 909.8 561.8 911.2 562C912.7 562.3 914.1 563.5 914.5 563.7" stroke="#0a0af5" stroke-width="3.9"/>
</g>
<line x1="126.8" y1="7.1" x2="126.8" y2="606.8" stroke="#000" stroke-width="3.6" stroke-linecap="butt"/>
<line x1="915.5" y1="7.1" x2="915.5" y2="618.3" stroke="#000" stroke-width="3.6" stroke-linecap="butt"/>
<line x1="125" y1="8.9" x2="917.3" y2="8.9" stroke="#000" stroke-width="3.6" stroke-linecap="butt"/>
<line x1="114.3" y1="47.6" x2="126.8" y2="47.6" stroke="#000" stroke-width="3.4" stroke-linecap="butt"/>
<line x1="119.8" y1="87.3" x2="126.8" y2="87.3" stroke="#000" stroke-width="3.4" stroke-linecap="butt"/>
<line x1="114.3" y1="127" x2="126.8" y2="127" stroke="#000" stroke-width="3.4" stroke-linecap="butt"/>
<line x1="119.8" y1="166.8" x2="126.8" y2="166.8" stroke="#000" stroke-width="3.4" stroke-linecap="butt"/>
<line x1="114.3" y1="206.5" x2="126.8" y2="206.5" stroke="#000" stroke-width="3.4" stroke-linecap="butt"/>
<line x1="119.8" y1="273.5" x2="126.8" y2="273.5" stroke="#000" stroke-width="3.4" stroke-linecap="butt"/>
<line x1="114.3" y1="339.8" x2="126.8" y2="339.8" stroke="#000" stroke-width="3.4" stroke-linecap="butt"/>
<line x1="119.8" y1="406" x2="126.8" y2="406" stroke="#000" stroke-width="3.4" stroke-linecap="butt"/>
<line x1="114.3" y1="472.3" x2="126.8" y2="472.3" stroke="#000" stroke-width="3.4" stroke-linecap="butt"/>
<line x1="119.8" y1="538.6" x2="126.8" y2="538.6" stroke="#000" stroke-width="3.4" stroke-linecap="butt"/>
<line x1="114.3" y1="604.9" x2="126.8" y2="604.9" stroke="#000" stroke-width="3.4" stroke-linecap="butt"/>
<text x="108" y="59.3" font-size="46" text-anchor="end" font-family="'Liberation Sans', Arial, Helvetica, sans-serif" font-weight="bold" >4</text>
<text x="108" y="141" font-size="46" text-anchor="end" font-family="'Liberation Sans', Arial, Helvetica, sans-serif" font-weight="bold" >2</text>
<text x="108" y="221.7" font-size="46" text-anchor="end" font-family="'Liberation Sans', Arial, Helvetica, sans-serif" font-weight="bold" >0</text>
<text x="108" y="353.8" font-size="46" text-anchor="end" font-family="'Liberation Sans', Arial, Helvetica, sans-serif" font-weight="bold" >2</text>
<text x="108" y="487.5" font-size="46" text-anchor="end" font-family="'Liberation Sans', Arial, Helvetica, sans-serif" font-weight="bold" >1</text>
<text x="108" y="617.5" font-size="46" text-anchor="end" font-family="'Liberation Sans', Arial, Helvetica, sans-serif" font-weight="bold" >0</text>
<text x="145.5" y="675.3" font-size="45" text-anchor="middle" font-family="'Liberation Sans', Arial, Helvetica, sans-serif" font-weight="bold" >-16</text>
<text x="292" y="675.3" font-size="45" text-anchor="middle" font-family="'Liberation Sans', Arial, Helvetica, sans-serif" font-weight="bold" >-12</text>
<text x="438.4" y="675.3" font-size="45" text-anchor="middle" font-family="'Liberation Sans', Arial, Helvetica, sans-serif" font-weight="bold" >-8</text>
<text x="584.9" y="675.3" font-size="45" text-anchor="middle" font-family="'Liberation Sans', Arial, Helvetica, sans-serif" font-weight="bold" >-4</text>
<text x="731.4" y="675.3" font-size="45" text-anchor="middle" font-family="'Liberation Sans', Arial, Helvetica, sans-serif" font-weight="bold" >0</text>
<text x="877.9" y="675.3" font-size="45" text-anchor="middle" font-family="'Liberation Sans', Arial, Helvetica, sans-serif" font-weight="bold" >4</text>
<text x="430.5" y="716.8" font-size="44" text-anchor="start" font-family="'Liberation Sans', Arial, Helvetica, sans-serif" font-weight="bold" >Energy (eV)</text>
<text transform="translate(50.2 497.5) rotate(-90) scale(0.95 1)" font-size="46.5" text-anchor="start" x="0.7 34.7 67 98.4 110.8 126.6 150.7 165.5 193.2 210.6 238.1 263.1 276.3 302.7 329.4 345 363.7 379.6 410.4 428.2" y="0" font-family="'Liberation Sans', Arial, Helvetica, sans-serif" font-weight="bold">DOS (states/ev/f.u.)</text>
<text x="25" y="47.5" font-size="52" font-family="'Liberation Serif', 'Times New Roman', serif" font-weight="bold">a</text>
<line x1="153.5" y1="37.8" x2="217.5" y2="37.8" stroke="#0a0606" stroke-width="3.6" stroke-linecap="round"/>
<text x="225.6" y="47.2" font-size="35" text-anchor="start" font-family="'Liberation Sans', Arial, Helvetica, sans-serif" font-weight="bold" font-style="italic">Total</text>
<line x1="149" y1="303.6" x2="210.5" y2="303.6" stroke="#0c7a14" stroke-width="4.8" stroke-linecap="round"/>
<text x="221" y="312" font-size="33.5" text-anchor="start" letter-spacing="0.6" style="font-kerning:none" font-family="'Liberation Sans', Arial, Helvetica, sans-serif" font-weight="bold">B-<tspan font-style="italic">s</tspan></text>
<line x1="149" y1="346.8" x2="210.5" y2="346.8" stroke="#fa0a0a" stroke-width="4.8" stroke-linecap="round"/>
<text x="221" y="355.2" font-size="33.5" text-anchor="start" letter-spacing="0.6" style="font-kerning:none" font-family="'Liberation Sans', Arial, Helvetica, sans-serif" font-weight="bold">B-<tspan font-style="italic">p</tspan></text>
<line x1="149" y1="390.3" x2="210.5" y2="390.3" stroke="#7ff0f0" stroke-width="4.8" stroke-linecap="round"/>
<text x="221" y="398.7" font-size="33.5" text-anchor="start" letter-spacing="0.6" style="font-kerning:none" font-family="'Liberation Sans', Arial, Helvetica, sans-serif" font-weight="bold">V-<tspan font-style="italic">p</tspan></text>
<line x1="149" y1="434.2" x2="210.5" y2="434.2" stroke="#0a0af5" stroke-width="4.8" stroke-linecap="round"/>
<text x="221" y="442.6" font-size="33.5" text-anchor="start" letter-spacing="0.6" style="font-kerning:none" font-family="'Liberation Sans', Arial, Helvetica, sans-serif" font-weight="bold">V-<tspan font-style="italic">d</tspan></text>
<clipPath id="cub"><rect x="1052.2" y="6.4" width="789.4" height="197.2"/></clipPath>
<clipPath id="csb"><rect x="1052.2" y="6.4" width="789.4" height="199.4"/></clipPath>
<clipPath id="clb"><rect x="1052.2" y="203.4" width="789.4" height="394.1"/></clipPath>
<line x1="1088.8" y1="191.5" x2="1088.8" y2="215.5" stroke="#000" stroke-width="3.4" stroke-linecap="butt"/>
<line x1="1126.4" y1="191.5" x2="1126.4" y2="215.5" stroke="#000" stroke-width="3.4" stroke-linecap="butt"/>
<line x1="1164" y1="191.5" x2="1164" y2="215.5" stroke="#000" stroke-width="3.4" stroke-linecap="butt"/>
<line x1="1201.6" y1="181.5" x2="1201.6" y2="225.5" stroke="#000" stroke-width="3.4" stroke-linecap="butt"/>
<line x1="1239.2" y1="191.5" x2="1239.2" y2="215.5" stroke="#000" stroke-width="3.4" stroke-linecap="butt"/>
<line x1="1276.8" y1="191.5" x2="1276.8" y2="215.5" stroke="#000" stroke-width="3.4" stroke-linecap="butt"/>
<line x1="1314.4" y1="191.5" x2="1314.4" y2="215.5" stroke="#000" stroke-width="3.4" stroke-linecap="butt"/>
<line x1="1352" y1="181.5" x2="1352" y2="225.5" stroke="#000" stroke-width="3.4" stroke-linecap="butt"/>
<line x1="1389.6" y1="191.5" x2="1389.6" y2="215.5" stroke="#000" stroke-width="3.4" stroke-linecap="butt"/>
<line x1="1427.2" y1="191.5" x2="1427.2" y2="215.5" stroke="#000" stroke-width="3.4" stroke-linecap="butt"/>
<line x1="1464.8" y1="191.5" x2="1464.8" y2="215.5" stroke="#000" stroke-width="3.4" stroke-linecap="butt"/>
<line x1="1502.4" y1="181.5" x2="1502.4" y2="225.5" stroke="#000" stroke-width="3.4" stroke-linecap="butt"/>
<line x1="1540" y1="191.5" x2="1540" y2="215.5" stroke="#000" stroke-width="3.4" stroke-linecap="butt"/>
<line x1="1577.6" y1="191.5" x2="1577.6" y2="215.5" stroke="#000" stroke-width="3.4" stroke-linecap="butt"/>
<line x1="1615.2" y1="191.5" x2="1615.2" y2="215.5" stroke="#000" stroke-width="3.4" stroke-linecap="butt"/>
<line x1="1652.8" y1="181.5" x2="1652.8" y2="225.5" stroke="#000" stroke-width="3.4" stroke-linecap="butt"/>
<line x1="1690.4" y1="191.5" x2="1690.4" y2="215.5" stroke="#000" stroke-width="3.4" stroke-linecap="butt"/>
<line x1="1728" y1="191.5" x2="1728" y2="215.5" stroke="#000" stroke-width="3.4" stroke-linecap="butt"/>
<line x1="1765.6" y1="191.5" x2="1765.6" y2="215.5" stroke="#000" stroke-width="3.4" stroke-linecap="butt"/>
<line x1="1803.2" y1="181.5" x2="1803.2" y2="225.5" stroke="#000" stroke-width="3.4" stroke-linecap="butt"/>
<g clip-path="url(#cub)">
<path d="M1052.4 202.8C1055.6 202.8 1073.2 203.7 1076.9 202.8C1080.6 202 1079.2 197.7 1080.2 196.6C1081.2 195.5 1083.2 195 1084.3 194.6C1085.4 194.3 1087.3 193.6 1088.4 193.7C1089.5 193.7 1090.2 194.8 1092.5 195C1094.8 195.1 1102.6 195.2 1105.6 195C1108.5 194.8 1112.7 193.3 1114.6 193.3C1116.4 193.4 1118.2 194.8 1119.5 195.3C1120.8 195.8 1123 197 1124.4 196.9C1125.8 196.9 1127.6 194.9 1130.1 194.6C1132.7 194.4 1140.8 195.6 1143.2 195.3C1145.6 195 1147 193.8 1148.2 192.5C1149.4 191.3 1151.3 187.2 1152.3 186C1153.2 184.7 1154.7 183.3 1155.5 183.2C1156.4 183.1 1157.6 184.3 1158.8 185.1C1160 186 1162.9 189.6 1164.5 189.7C1166.2 189.8 1169.3 186.8 1171.1 186C1172.8 185.2 1175.9 184.3 1177.6 183.8C1179.4 183.4 1182.2 182.6 1184.2 182.7C1186.1 182.8 1190 184.5 1192.4 184.8C1194.8 185.1 1199.8 185 1202.2 184.8C1204.6 184.6 1208.7 184.2 1210.4 183.5C1212 182.8 1213.5 180.8 1214.5 179.4C1215.5 178 1217 173.9 1217.8 172.9C1218.5 171.8 1219.2 171.3 1219.9 171.7C1220.5 172.2 1221.9 174.1 1222.7 176.1C1223.5 178.2 1225 184.7 1225.9 186.8C1226.9 188.9 1228.8 191 1230 191.7C1231.2 192.4 1233.6 192.5 1234.9 191.7C1236.3 190.9 1238.7 187.3 1239.9 186C1241.1 184.7 1242.9 182.1 1244 181.9C1245 181.7 1246.7 183.5 1248 184.3C1249.4 185.2 1252.5 187.8 1253.8 188.4C1255.1 189.1 1256.7 189.9 1257.9 189.2C1259.1 188.6 1261.4 185.3 1262.8 183.5C1264.2 181.8 1267.1 177.9 1268.5 176.1C1269.9 174.4 1272.2 171.2 1273.4 170.4C1274.6 169.6 1276.3 170.3 1277.5 170.1C1278.7 169.9 1281.1 168.6 1282.4 169.1C1283.7 169.6 1286 172.6 1287.3 173.7C1288.7 174.7 1290.8 177.1 1292.3 177C1293.7 176.9 1296 173.5 1298 172.9C1300 172.2 1304.9 172.3 1307 172C1309.1 171.8 1312.3 172.3 1313.5 171.2C1314.7 170.1 1315.2 165.3 1316 163.9C1316.8 162.4 1318.3 160.4 1319.3 160.3C1320.3 160.1 1322.3 161.5 1323.4 163C1324.5 164.6 1326.4 169.5 1327.5 172C1328.6 174.6 1330.5 179.8 1331.6 181.9C1332.6 183.9 1334.6 186.6 1335.7 187.6C1336.7 188.7 1338.5 189.3 1339.7 189.7C1341 190.2 1343.3 190.5 1345 190.9C1346.7 191.3 1350.4 192.4 1352.4 192.5C1354.3 192.6 1358 192.5 1359.7 191.7C1361.5 190.9 1363.9 189.2 1365.5 186.8C1367 184.4 1369.7 177.8 1371.2 173.7C1372.7 169.5 1375.7 158.8 1376.9 155.7C1378.1 152.5 1379.3 150.5 1380.2 149.9C1381.1 149.4 1382.6 150.9 1383.5 151.6C1384.4 152.2 1385.9 154.3 1386.8 154.9C1387.6 155.4 1389 154.5 1390 155.7C1391 156.9 1392.9 161.7 1394.1 163.9C1395.3 166 1397.7 170.5 1399 172C1400.3 173.6 1402.5 175.7 1403.9 175.7C1405.4 175.7 1408.2 172.8 1409.7 172C1411.2 171.3 1413.8 170.8 1415.4 170.1C1417 169.3 1420.4 167.4 1422 166.3C1423.5 165.2 1425.8 162.3 1426.9 161.9C1428 161.5 1429.2 162.4 1430.1 163C1431.1 163.7 1433.2 166.6 1434.2 166.8C1435.3 167 1437.2 166.6 1438.3 164.7C1439.4 162.8 1441.4 155 1442.4 152.4C1443.4 149.8 1444.9 146.1 1445.7 145C1446.5 143.9 1447.2 143.7 1448.2 144.2C1449.1 144.8 1451.4 147.6 1453.1 149.1C1454.7 150.6 1458.9 155.3 1460.4 155.3C1462 155.3 1463.4 150.8 1464.5 149.1C1465.6 147.5 1467.8 143.8 1468.6 142.9C1469.5 142 1470.2 142.1 1471.1 142.2C1472 142.4 1474.2 144.2 1475.2 143.9C1476.2 143.6 1477.7 140.8 1478.5 140.1C1479.2 139.5 1480.1 138.5 1480.9 139C1481.7 139.4 1483.3 142.4 1484.2 143.4C1485.1 144.4 1486.5 147.5 1487.5 146.7C1488.4 145.8 1490.5 139.9 1491.6 136.8C1492.6 133.8 1494.8 125.8 1495.6 123.7C1496.5 121.7 1497.2 121.2 1498.1 121.3C1499 121.4 1500.8 124.1 1502.2 124.6C1503.6 125 1507.4 125.4 1508.7 124.9C1510.1 124.3 1511.1 122.9 1512 120.5C1512.9 118 1514.5 109 1515.3 106.5C1516.1 104.1 1517.5 102.3 1518.2 102.5C1519 102.6 1520.2 103.8 1521 107.4C1521.8 111 1523.6 125.5 1524.3 129.5C1525 133.4 1525.2 136.7 1525.9 136.8C1526.7 137 1529.1 131.5 1530 130.3C1531 129.1 1532.2 128.4 1533.3 127.8C1534.4 127.3 1537.1 127.8 1538.2 126.2C1539.3 124.6 1540.8 117.3 1541.5 115.6C1542.2 113.9 1542.6 112.9 1543.1 113.4C1543.7 114 1544.8 116.4 1545.6 119.6C1546.4 122.9 1548 134.3 1548.9 137.7C1549.7 141 1550.9 143.6 1552.1 145C1553.3 146.4 1556.5 148.5 1557.9 148.3C1559.3 148.1 1561.5 144.9 1562.8 143.4C1564.1 141.9 1566.7 138.6 1567.7 136.8C1568.7 135.1 1569.6 131.2 1570.2 130.3C1570.7 129.4 1571.2 129 1571.8 129.8C1572.3 130.6 1573.5 134.1 1574.2 136C1575 138 1576.5 143.1 1577.5 144.5C1578.5 146 1580.5 146.3 1581.6 146.7C1582.7 147 1584.5 146.2 1585.7 147.2C1586.9 148.1 1589.2 151.7 1590.6 154C1592 156.4 1595 162.4 1596.4 164.7C1597.7 167 1599.5 170.2 1600.4 171.2C1601.4 172.3 1602.7 172.6 1603.7 172.4C1604.7 172.2 1606.8 170.5 1607.8 169.6C1608.8 168.7 1609.9 166.3 1611.1 165.5C1612.3 164.7 1615.3 164.7 1616.8 163.9C1618.3 163 1621.2 160.7 1622.6 158.9C1623.9 157.2 1625.6 153.7 1626.6 150.8C1627.7 147.8 1630.2 139 1630.7 136.8C1631.3 134.7 1630.7 135.5 1631 134.8C1631.3 134 1632.4 131.7 1633 131C1633.6 130.3 1634.6 129.1 1635.3 129.5C1636 129.9 1637.5 132.5 1638.3 134C1639.1 135.5 1640.5 139.3 1641.3 140.8C1642.1 142.3 1643.6 143.2 1644.3 145.3C1645 147.4 1645.9 152.8 1646.5 156.5C1647.1 160.2 1648.2 168.6 1648.8 173C1649.4 177.4 1650.4 186.6 1651 189.5C1651.6 192.4 1652.6 194.7 1653.3 194.8C1654 194.9 1655.5 192.4 1656.3 190.3C1657.1 188.2 1658.5 181.1 1659.3 179C1660.1 176.9 1661.4 174.7 1662.3 174.5C1663.2 174.3 1665.1 177 1666 177.5C1666.9 178 1668.2 179.3 1669 178.3C1669.8 177.3 1671.2 172.6 1672 170C1672.8 167.4 1674.1 160.7 1675 158.8C1675.9 156.9 1677.9 156.4 1678.8 155.8C1679.7 155.2 1681 155.6 1681.8 154.3C1682.6 153 1684 148.1 1684.8 146C1685.6 143.9 1687 139.7 1687.8 138.5C1688.6 137.3 1689.9 136.9 1690.8 137C1691.7 137.1 1693.5 137.7 1694.5 139.3C1695.5 140.9 1697.1 146.9 1698.3 149C1699.5 151.1 1702.2 153.8 1703.5 155C1704.8 156.2 1707.1 158 1708 158C1708.9 158 1709.7 156.8 1710.3 155C1710.9 153.2 1711.8 148.1 1712.5 144.5C1713.2 140.9 1714.5 131.4 1715.5 128C1716.5 124.6 1719 121.4 1720 119C1721 116.6 1722.3 114.9 1723 110C1723.7 105.1 1724.7 91.2 1725.3 82.5C1725.8 73.9 1726.7 54 1727.2 45C1727.7 36 1728.6 20.1 1729 15C1729.4 9.9 1729.9 7.9 1730.2 6.8C1730.6 5.7 1731.1 6.1 1731.4 6.8C1731.8 7.5 1732.3 8.5 1732.8 12C1733.3 15.5 1734.5 28.2 1735 33C1735.6 37.8 1736.2 45.5 1736.8 48C1737.4 50.5 1738.9 48.2 1739.5 51.8C1740.2 55.4 1741 67.3 1741.8 75C1742.6 82.8 1744.6 104.3 1745.2 110C1745.8 115.7 1745.7 115.9 1746.3 117.5C1746.9 119.1 1749.2 120.6 1750 122C1750.8 123.4 1751.8 124.6 1752.3 128C1752.8 131.4 1753.3 141.9 1753.8 147.5C1754.3 153.1 1755.5 165.2 1756.1 170C1756.7 174.8 1757.7 181.2 1758.3 183.5C1758.9 185.8 1759.9 187.3 1760.6 187.3C1761.3 187.3 1762.6 185.6 1763.6 183.5C1764.6 181.4 1766.9 175.3 1768.1 171.5C1769.3 167.7 1771.5 158.8 1772.6 155C1773.7 151.2 1775.5 144.8 1776.3 143C1777.1 141.2 1777.9 140.7 1778.6 141.5C1779.3 142.3 1780.8 147.3 1781.6 149C1782.4 150.7 1783.9 154.3 1784.6 154.3C1785.3 154.3 1786.2 150.4 1786.8 149C1787.4 147.6 1788.4 143.7 1789.1 143.8C1789.8 143.9 1791.4 148.9 1792.1 149.8C1792.8 150.7 1793.7 151.5 1794.3 150.5C1794.9 149.5 1796 144.6 1796.6 142.3C1797.2 140 1798.2 134.6 1798.8 133.3C1799.4 132 1800.4 131.8 1801.1 132.5C1801.8 133.2 1803.2 136.7 1804.1 138.5C1805 140.3 1806.8 145.7 1807.8 146C1808.8 146.3 1810.6 142 1811.6 140.8C1812.6 139.5 1814.3 137.1 1815.3 136.7C1816.3 136.3 1818.2 136.7 1819.1 137.8C1820 138.8 1821.3 141.4 1822.1 144.5C1822.9 147.6 1824.2 157.4 1825.1 161C1826 164.6 1827.6 169.1 1828.8 171.5C1830 173.9 1832.8 177.6 1834.1 179C1835.4 180.4 1837.6 181.5 1838.6 182C1839.6 182.5 1841.2 182.7 1841.6 182.8L1841.6 203.6L1052.4 203.6Z" fill="#fcfa7c" stroke="none"/>
</g>
<line x1="1652.8" y1="6.4" x2="1652.8" y2="595.5" stroke="#9a9a9a" stroke-width="1.8" stroke-linecap="butt"/>
<line x1="1088.8" y1="203.6" x2="1088.8" y2="215.5" stroke="#000" stroke-width="3.4" stroke-linecap="butt"/>
<line x1="1126.4" y1="203.6" x2="1126.4" y2="215.5" stroke="#000" stroke-width="3.4" stroke-linecap="butt"/>
<line x1="1164" y1="203.6" x2="1164" y2="215.5" stroke="#000" stroke-width="3.4" stroke-linecap="butt"/>
<line x1="1201.6" y1="203.6" x2="1201.6" y2="225.5" stroke="#000" stroke-width="3.4" stroke-linecap="butt"/>
<line x1="1239.2" y1="203.6" x2="1239.2" y2="215.5" stroke="#000" stroke-width="3.4" stroke-linecap="butt"/>
<line x1="1276.8" y1="203.6" x2="1276.8" y2="215.5" stroke="#000" stroke-width="3.4" stroke-linecap="butt"/>
<line x1="1314.4" y1="203.6" x2="1314.4" y2="215.5" stroke="#000" stroke-width="3.4" stroke-linecap="butt"/>
<line x1="1352" y1="203.6" x2="1352" y2="225.5" stroke="#000" stroke-width="3.4" stroke-linecap="butt"/>
<line x1="1389.6" y1="203.6" x2="1389.6" y2="215.5" stroke="#000" stroke-width="3.4" stroke-linecap="butt"/>
<line x1="1427.2" y1="203.6" x2="1427.2" y2="215.5" stroke="#000" stroke-width="3.4" stroke-linecap="butt"/>
<line x1="1464.8" y1="203.6" x2="1464.8" y2="215.5" stroke="#000" stroke-width="3.4" stroke-linecap="butt"/>
<line x1="1502.4" y1="203.6" x2="1502.4" y2="225.5" stroke="#000" stroke-width="3.4" stroke-linecap="butt"/>
<line x1="1540" y1="203.6" x2="1540" y2="215.5" stroke="#000" stroke-width="3.4" stroke-linecap="butt"/>
<line x1="1577.6" y1="203.6" x2="1577.6" y2="215.5" stroke="#000" stroke-width="3.4" stroke-linecap="butt"/>
<line x1="1615.2" y1="203.6" x2="1615.2" y2="215.5" stroke="#000" stroke-width="3.4" stroke-linecap="butt"/>
<line x1="1652.8" y1="203.6" x2="1652.8" y2="225.5" stroke="#000" stroke-width="3.4" stroke-linecap="butt"/>
<line x1="1690.4" y1="203.6" x2="1690.4" y2="215.5" stroke="#000" stroke-width="3.4" stroke-linecap="butt"/>
<line x1="1728" y1="203.6" x2="1728" y2="215.5" stroke="#000" stroke-width="3.4" stroke-linecap="butt"/>
<line x1="1765.6" y1="203.6" x2="1765.6" y2="215.5" stroke="#000" stroke-width="3.4" stroke-linecap="butt"/>
<line x1="1803.2" y1="203.6" x2="1803.2" y2="225.5" stroke="#000" stroke-width="3.4" stroke-linecap="butt"/>
<g clip-path="url(#csb)">
<path d="M1052.4 202.8C1055.6 202.8 1073.2 203.7 1076.9 202.8C1080.6 202 1079.2 197.7 1080.2 196.6C1081.2 195.5 1083.2 195 1084.3 194.6C1085.4 194.3 1087.3 193.6 1088.4 193.7C1089.5 193.7 1090.2 194.8 1092.5 195C1094.8 195.1 1102.6 195.2 1105.6 195C1108.5 194.8 1112.7 193.3 1114.6 193.3C1116.4 193.4 1118.2 194.8 1119.5 195.3C1120.8 195.8 1123 197 1124.4 196.9C1125.8 196.9 1127.6 194.9 1130.1 194.6C1132.7 194.4 1140.8 195.6 1143.2 195.3C1145.6 195 1147 193.8 1148.2 192.5C1149.4 191.3 1151.3 187.2 1152.3 186C1153.2 184.7 1154.7 183.3 1155.5 183.2C1156.4 183.1 1157.6 184.3 1158.8 185.1C1160 186 1162.9 189.6 1164.5 189.7C1166.2 189.8 1169.3 186.8 1171.1 186C1172.8 185.2 1175.9 184.3 1177.6 183.8C1179.4 183.4 1182.2 182.6 1184.2 182.7C1186.1 182.8 1190 184.5 1192.4 184.8C1194.8 185.1 1199.8 185 1202.2 184.8C1204.6 184.6 1208.7 184.2 1210.4 183.5C1212 182.8 1213.5 180.8 1214.5 179.4C1215.5 178 1217 173.9 1217.8 172.9C1218.5 171.8 1219.2 171.3 1219.9 171.7C1220.5 172.2 1221.9 174.1 1222.7 176.1C1223.5 178.2 1225 184.7 1225.9 186.8C1226.9 188.9 1228.8 191 1230 191.7C1231.2 192.4 1233.6 192.5 1234.9 191.7C1236.3 190.9 1238.7 187.3 1239.9 186C1241.1 184.7 1242.9 182.1 1244 181.9C1245 181.7 1246.7 183.5 1248 184.3C1249.4 185.2 1252.5 187.8 1253.8 188.4C1255.1 189.1 1256.7 189.9 1257.9 189.2C1259.1 188.6 1261.4 185.3 1262.8 183.5C1264.2 181.8 1267.1 177.9 1268.5 176.1C1269.9 174.4 1272.2 171.2 1273.4 170.4C1274.6 169.6 1276.3 170.3 1277.5 170.1C1278.7 169.9 1281.1 168.6 1282.4 169.1C1283.7 169.6 1286 172.6 1287.3 173.7C1288.7 174.7 1290.8 177.1 1292.3 177C1293.7 176.9 1296 173.5 1298 172.9C1300 172.2 1304.9 172.3 1307 172C1309.1 171.8 1312.3 172.3 1313.5 171.2C1314.7 170.1 1315.2 165.3 1316 163.9C1316.8 162.4 1318.3 160.4 1319.3 160.3C1320.3 160.1 1322.3 161.5 1323.4 163C1324.5 164.6 1326.4 169.5 1327.5 172C1328.6 174.6 1330.5 179.8 1331.6 181.9C1332.6 183.9 1334.6 186.6 1335.7 187.6C1336.7 188.7 1338.5 189.3 1339.7 189.7C1341 190.2 1343.3 190.5 1345 190.9C1346.7 191.3 1350.4 192.4 1352.4 192.5C1354.3 192.6 1358 192.5 1359.7 191.7C1361.5 190.9 1363.9 189.2 1365.5 186.8C1367 184.4 1369.7 177.8 1371.2 173.7C1372.7 169.5 1375.7 158.8 1376.9 155.7C1378.1 152.5 1379.3 150.5 1380.2 149.9C1381.1 149.4 1382.6 150.9 1383.5 151.6C1384.4 152.2 1385.9 154.3 1386.8 154.9C1387.6 155.4 1389 154.5 1390 155.7C1391 156.9 1392.9 161.7 1394.1 163.9C1395.3 166 1397.7 170.5 1399 172C1400.3 173.6 1402.5 175.7 1403.9 175.7C1405.4 175.7 1408.2 172.8 1409.7 172C1411.2 171.3 1413.8 170.8 1415.4 170.1C1417 169.3 1420.4 167.4 1422 166.3C1423.5 165.2 1425.8 162.3 1426.9 161.9C1428 161.5 1429.2 162.4 1430.1 163C1431.1 163.7 1433.2 166.6 1434.2 166.8C1435.3 167 1437.2 166.6 1438.3 164.7C1439.4 162.8 1441.4 155 1442.4 152.4C1443.4 149.8 1444.9 146.1 1445.7 145C1446.5 143.9 1447.2 143.7 1448.2 144.2C1449.1 144.8 1451.4 147.6 1453.1 149.1C1454.7 150.6 1458.9 155.3 1460.4 155.3C1462 155.3 1463.4 150.8 1464.5 149.1C1465.6 147.5 1467.8 143.8 1468.6 142.9C1469.5 142 1470.2 142.1 1471.1 142.2C1472 142.4 1474.2 144.2 1475.2 143.9C1476.2 143.6 1477.7 140.8 1478.5 140.1C1479.2 139.5 1480.1 138.5 1480.9 139C1481.7 139.4 1483.3 142.4 1484.2 143.4C1485.1 144.4 1486.5 147.5 1487.5 146.7C1488.4 145.8 1490.5 139.9 1491.6 136.8C1492.6 133.8 1494.8 125.8 1495.6 123.7C1496.5 121.7 1497.2 121.2 1498.1 121.3C1499 121.4 1500.8 124.1 1502.2 124.6C1503.6 125 1507.4 125.4 1508.7 124.9C1510.1 124.3 1511.1 122.9 1512 120.5C1512.9 118 1514.5 109 1515.3 106.5C1516.1 104.1 1517.5 102.3 1518.2 102.5C1519 102.6 1520.2 103.8 1521 107.4C1521.8 111 1523.6 125.5 1524.3 129.5C1525 133.4 1525.2 136.7 1525.9 136.8C1526.7 137 1529.1 131.5 1530 130.3C1531 129.1 1532.2 128.4 1533.3 127.8C1534.4 127.3 1537.1 127.8 1538.2 126.2C1539.3 124.6 1540.8 117.3 1541.5 115.6C1542.2 113.9 1542.6 112.9 1543.1 113.4C1543.7 114 1544.8 116.4 1545.6 119.6C1546.4 122.9 1548 134.3 1548.9 137.7C1549.7 141 1550.9 143.6 1552.1 145C1553.3 146.4 1556.5 148.5 1557.9 148.3C1559.3 148.1 1561.5 144.9 1562.8 143.4C1564.1 141.9 1566.7 138.6 1567.7 136.8C1568.7 135.1 1569.6 131.2 1570.2 130.3C1570.7 129.4 1571.2 129 1571.8 129.8C1572.3 130.6 1573.5 134.1 1574.2 136C1575 138 1576.5 143.1 1577.5 144.5C1578.5 146 1580.5 146.3 1581.6 146.7C1582.7 147 1584.5 146.2 1585.7 147.2C1586.9 148.1 1589.2 151.7 1590.6 154C1592 156.4 1595 162.4 1596.4 164.7C1597.7 167 1599.5 170.2 1600.4 171.2C1601.4 172.3 1602.7 172.6 1603.7 172.4C1604.7 172.2 1606.8 170.5 1607.8 169.6C1608.8 168.7 1609.9 166.3 1611.1 165.5C1612.3 164.7 1615.3 164.7 1616.8 163.9C1618.3 163 1621.2 160.7 1622.6 158.9C1623.9 157.2 1625.6 153.7 1626.6 150.8C1627.7 147.8 1630.2 139 1630.7 136.8C1631.3 134.7 1630.7 135.5 1631 134.8C1631.3 134 1632.4 131.7 1633 131C1633.6 130.3 1634.6 129.1 1635.3 129.5C1636 129.9 1637.5 132.5 1638.3 134C1639.1 135.5 1640.5 139.3 1641.3 140.8C1642.1 142.3 1643.6 143.2 1644.3 145.3C1645 147.4 1645.9 152.8 1646.5 156.5C1647.1 160.2 1648.2 168.6 1648.8 173C1649.4 177.4 1650.4 186.6 1651 189.5C1651.6 192.4 1652.6 194.7 1653.3 194.8C1654 194.9 1655.5 192.4 1656.3 190.3C1657.1 188.2 1658.5 181.1 1659.3 179C1660.1 176.9 1661.4 174.7 1662.3 174.5C1663.2 174.3 1665.1 177 1666 177.5C1666.9 178 1668.2 179.3 1669 178.3C1669.8 177.3 1671.2 172.6 1672 170C1672.8 167.4 1674.1 160.7 1675 158.8C1675.9 156.9 1677.9 156.4 1678.8 155.8C1679.7 155.2 1681 155.6 1681.8 154.3C1682.6 153 1684 148.1 1684.8 146C1685.6 143.9 1687 139.7 1687.8 138.5C1688.6 137.3 1689.9 136.9 1690.8 137C1691.7 137.1 1693.5 137.7 1694.5 139.3C1695.5 140.9 1697.1 146.9 1698.3 149C1699.5 151.1 1702.2 153.8 1703.5 155C1704.8 156.2 1707.1 158 1708 158C1708.9 158 1709.7 156.8 1710.3 155C1710.9 153.2 1711.8 148.1 1712.5 144.5C1713.2 140.9 1714.5 131.4 1715.5 128C1716.5 124.6 1719 121.4 1720 119C1721 116.6 1722.3 114.9 1723 110C1723.7 105.1 1724.7 91.2 1725.3 82.5C1725.8 73.9 1726.7 54 1727.2 45C1727.7 36 1728.6 20.1 1729 15C1729.4 9.9 1729.9 7.9 1730.2 6.8C1730.6 5.7 1731.1 6.1 1731.4 6.8C1731.8 7.5 1732.3 8.5 1732.8 12C1733.3 15.5 1734.5 28.2 1735 33C1735.6 37.8 1736.2 45.5 1736.8 48C1737.4 50.5 1738.9 48.2 1739.5 51.8C1740.2 55.4 1741 67.3 1741.8 75C1742.6 82.8 1744.6 104.3 1745.2 110C1745.8 115.7 1745.7 115.9 1746.3 117.5C1746.9 119.1 1749.2 120.6 1750 122C1750.8 123.4 1751.8 124.6 1752.3 128C1752.8 131.4 1753.3 141.9 1753.8 147.5C1754.3 153.1 1755.5 165.2 1756.1 170C1756.7 174.8 1757.7 181.2 1758.3 183.5C1758.9 185.8 1759.9 187.3 1760.6 187.3C1761.3 187.3 1762.6 185.6 1763.6 183.5C1764.6 181.4 1766.9 175.3 1768.1 171.5C1769.3 167.7 1771.5 158.8 1772.6 155C1773.7 151.2 1775.5 144.8 1776.3 143C1777.1 141.2 1777.9 140.7 1778.6 141.5C1779.3 142.3 1780.8 147.3 1781.6 149C1782.4 150.7 1783.9 154.3 1784.6 154.3C1785.3 154.3 1786.2 150.4 1786.8 149C1787.4 147.6 1788.4 143.7 1789.1 143.8C1789.8 143.9 1791.4 148.9 1792.1 149.8C1792.8 150.7 1793.7 151.5 1794.3 150.5C1794.9 149.5 1796 144.6 1796.6 142.3C1797.2 140 1798.2 134.6 1798.8 133.3C1799.4 132 1800.4 131.8 1801.1 132.5C1801.8 133.2 1803.2 136.7 1804.1 138.5C1805 140.3 1806.8 145.7 1807.8 146C1808.8 146.3 1810.6 142 1811.6 140.8C1812.6 139.5 1814.3 137.1 1815.3 136.7C1816.3 136.3 1818.2 136.7 1819.1 137.8C1820 138.8 1821.3 141.4 1822.1 144.5C1822.9 147.6 1824.2 157.4 1825.1 161C1826 164.6 1827.6 169.1 1828.8 171.5C1830 173.9 1832.8 177.6 1834.1 179C1835.4 180.4 1837.6 181.5 1838.6 182C1839.6 182.5 1841.2 182.7 1841.6 182.8" fill="none" stroke="#0a0606" stroke-width="3.5" stroke-linejoin="round" stroke-linecap="round"/>
</g>
<line x1="1050.4" y1="595.5" x2="1843.4" y2="595.5" stroke="#000" stroke-width="3.6" stroke-linecap="butt"/>
<line x1="1088.8" y1="583" x2="1088.8" y2="608" stroke="#000" stroke-width="3.4" stroke-linecap="butt"/>
<line x1="1126.4" y1="583" x2="1126.4" y2="608" stroke="#000" stroke-width="3.4" stroke-linecap="butt"/>
<line x1="1164" y1="583" x2="1164" y2="608" stroke="#000" stroke-width="3.4" stroke-linecap="butt"/>
<line x1="1201.6" y1="573" x2="1201.6" y2="618" stroke="#000" stroke-width="3.4" stroke-linecap="butt"/>
<line x1="1239.2" y1="583" x2="1239.2" y2="608" stroke="#000" stroke-width="3.4" stroke-linecap="butt"/>
<line x1="1276.8" y1="583" x2="1276.8" y2="608" stroke="#000" stroke-width="3.4" stroke-linecap="butt"/>
<line x1="1314.4" y1="583" x2="1314.4" y2="608" stroke="#000" stroke-width="3.4" stroke-linecap="butt"/>
<line x1="1352" y1="573" x2="1352" y2="618" stroke="#000" stroke-width="3.4" stroke-linecap="butt"/>
<line x1="1389.6" y1="583" x2="1389.6" y2="608" stroke="#000" stroke-width="3.4" stroke-linecap="butt"/>
<line x1="1427.2" y1="583" x2="1427.2" y2="608" stroke="#000" stroke-width="3.4" stroke-linecap="butt"/>
<line x1="1464.8" y1="583" x2="1464.8" y2="608" stroke="#000" stroke-width="3.4" stroke-linecap="butt"/>
<line x1="1502.4" y1="573" x2="1502.4" y2="618" stroke="#000" stroke-width="3.4" stroke-linecap="butt"/>
<line x1="1540" y1="583" x2="1540" y2="608" stroke="#000" stroke-width="3.4" stroke-linecap="butt"/>
<line x1="1577.6" y1="583" x2="1577.6" y2="608" stroke="#000" stroke-width="3.4" stroke-linecap="butt"/>
<line x1="1615.2" y1="583" x2="1615.2" y2="608" stroke="#000" stroke-width="3.4" stroke-linecap="butt"/>
<line x1="1652.8" y1="573" x2="1652.8" y2="618" stroke="#000" stroke-width="3.4" stroke-linecap="butt"/>
<line x1="1690.4" y1="583" x2="1690.4" y2="608" stroke="#000" stroke-width="3.4" stroke-linecap="butt"/>
<line x1="1728" y1="583" x2="1728" y2="608" stroke="#000" stroke-width="3.4" stroke-linecap="butt"/>
<line x1="1765.6" y1="583" x2="1765.6" y2="608" stroke="#000" stroke-width="3.4" stroke-linecap="butt"/>
<line x1="1803.2" y1="573" x2="1803.2" y2="618" stroke="#000" stroke-width="3.4" stroke-linecap="butt"/>
<g clip-path="url(#clb)" fill="none" stroke-linejoin="round" stroke-linecap="round">
<path d="M1076.9 595.4C1077.3 593.6 1078.7 585.6 1079.4 581.5C1080 577.5 1081.1 568 1081.8 565.1C1082.6 562.3 1084.2 560.8 1085.1 560.2C1086 559.7 1087.4 560.6 1088.4 561.1C1089.4 561.5 1091.3 563.4 1092.5 563.5C1093.7 563.6 1096.1 561.9 1097.4 561.9C1098.7 561.9 1100.8 563.1 1102.3 563.5C1103.8 563.9 1107.2 565.5 1108.9 565.1C1110.5 564.8 1113.3 560.8 1114.6 561.1C1115.9 561.3 1117.5 565.3 1118.7 566.8C1119.9 568.3 1122.2 572.3 1123.6 572.5C1125 572.7 1127.9 568.9 1129.3 568.4C1130.7 568 1132.9 568.9 1134.2 569.2C1135.6 569.6 1137.7 570.9 1139.2 570.9C1140.6 570.9 1143.7 570.7 1144.9 569.2C1146.1 567.8 1147.3 563.8 1148.2 560.2C1149 556.6 1150.7 545.9 1151.4 542.2C1152.2 538.5 1153.3 533.9 1153.9 532.4C1154.5 530.9 1155.4 530.1 1156 530.8C1156.7 531.4 1158 534.9 1158.8 537.3C1159.6 539.7 1161.2 546.7 1162.1 548.8C1163 550.8 1164.4 553.1 1165.4 552.9C1166.3 552.6 1168.2 548.6 1169.4 547.1C1170.6 545.7 1172.4 543.2 1174.4 542.2C1176.3 541.2 1182.3 539.7 1184.2 539.8C1186 539.9 1187.2 542.1 1188.3 543C1189.4 544 1191.2 546.3 1192.4 546.8C1193.6 547.4 1195.8 546.7 1197.3 547.1C1198.8 547.6 1202.1 550 1203.8 550.1C1205.6 550.2 1209 549 1210.4 548C1211.8 546.9 1213.6 544.7 1214.5 542.2C1215.4 539.7 1216.3 531.5 1216.9 529.1C1217.6 526.7 1218.7 524.2 1219.4 524.2C1220 524.2 1221.1 526.3 1221.8 529.1C1222.6 532 1224.2 541.1 1225.1 545.5C1226 549.9 1227.4 558.7 1228.4 561.9C1229.4 565 1231.5 568.4 1232.5 569.2C1233.5 570.1 1234.8 569.8 1235.8 568.4C1236.7 567 1238.9 560.8 1239.9 558.6C1240.8 556.4 1242.4 553.1 1243.1 552C1243.9 551 1244.8 550.1 1245.6 550.7C1246.4 551.4 1247.8 555.3 1248.9 557C1250 558.7 1252.6 562.4 1253.8 563.5C1255 564.6 1256.8 565.6 1257.9 565.1C1259 564.7 1260.7 562.9 1262 560.2C1263.3 557.6 1266.3 549 1267.7 545.5C1269.1 542 1271.3 535.8 1272.6 534C1273.9 532.2 1276.2 532.5 1277.5 532.1C1278.8 531.6 1281.1 529.8 1282.4 530.8C1283.7 531.7 1286 536.8 1287.3 538.9C1288.7 541.1 1290.8 546.6 1292.3 547.1C1293.7 547.7 1296.2 543.2 1298 543C1299.7 542.9 1303.6 545.4 1305.4 546.3C1307.1 547.2 1309.9 549.9 1311.1 549.6C1312.3 549.3 1313.6 545.9 1314.4 543.9C1315.1 541.8 1316.2 535.6 1316.8 534C1317.4 532.5 1318.1 532 1318.8 532.4C1319.4 532.8 1320.9 534.9 1321.7 537.3C1322.6 539.7 1324.1 546.9 1325 550.4C1325.9 553.9 1327.3 560.3 1328.3 563.5C1329.3 566.7 1331.2 572 1332.4 574.2C1333.6 576.3 1335.6 578.8 1337.3 579.9C1339 581 1343.1 581.9 1345 582.3C1346.9 582.8 1349.8 583.2 1351.5 583.2C1353.3 583.2 1356.4 583.2 1358.1 582.3C1359.8 581.5 1362.9 578.9 1364.6 576.6C1366.4 574.3 1369.6 568.9 1371.2 565.1C1372.8 561.4 1375.7 551.6 1376.9 548.8C1378.1 545.9 1379.3 544.4 1380.2 543.9C1381.1 543.3 1382.6 544.1 1383.5 544.7C1384.4 545.2 1385.9 547.4 1386.8 548C1387.6 548.5 1389 547.4 1390 548.8C1391 550.2 1392.9 555.5 1394.1 558.6C1395.3 561.7 1397.7 569.1 1399 571.7C1400.3 574.3 1402.4 577.4 1403.9 578.2C1405.5 579.1 1408.5 578.5 1410.5 578.2C1412.5 578 1416.7 577.5 1418.7 576.6C1420.7 575.7 1423.8 572.6 1425.2 571.7C1426.7 570.8 1428.3 569.8 1429.3 570.1C1430.3 570.3 1431.6 572.5 1432.6 573.3C1433.6 574.2 1435.3 576.8 1436.7 576.6C1438.1 576.4 1441.5 572.8 1443.2 571.7C1445 570.6 1448.1 568.4 1449.8 568.4C1451.5 568.4 1454.6 570.8 1456.3 571.7C1458.1 572.6 1461.4 574.6 1462.9 575C1464.4 575.4 1466.1 574.2 1467.8 574.6C1469.6 575.1 1474.1 578.2 1476 578.2C1477.9 578.3 1480.2 575.8 1481.7 575.3C1483.3 574.8 1485.9 575.3 1487.5 574.6C1489 573.9 1491.9 570.9 1493.2 570.1C1494.5 569.2 1496.2 568.2 1497.3 568.4C1498.4 568.6 1499.8 570.9 1501.4 571.7C1502.9 572.5 1506.9 573.6 1508.7 574.2C1510.6 574.7 1513.7 574.9 1515.3 575.8C1516.9 576.7 1519.7 579.5 1521 580.7C1522.3 581.9 1523.7 584.1 1525.1 584.8C1526.5 585.5 1529.5 585.6 1531.7 585.6C1533.9 585.6 1539.1 584.5 1541.5 584.8C1543.9 585.1 1547.7 587.4 1549.7 588.1C1551.6 588.7 1554.5 589.7 1556.2 589.7C1558 589.7 1560.8 588.6 1562.8 588.1C1564.7 587.5 1569 585.8 1571 585.6C1572.9 585.4 1575.6 586.1 1577.5 586.4C1579.5 586.8 1583.3 587.3 1585.7 588.1C1588.1 588.8 1592.7 591.4 1595.5 592.2C1598.4 592.9 1603.3 593.6 1607 593.8C1610.7 594 1619.7 594 1623.4 593.8C1627.1 593.6 1631.9 592.2 1634.8 592.2C1637.7 592.2 1643.6 593.7 1645 593.8C1646.4 593.9 1644.2 592.9 1645.2 593C1646.3 593.1 1646.2 594.5 1652.9 594.6C1659.6 594.7 1687.6 594.5 1695.5 593.8C1703.4 593.1 1708.8 590.8 1711.9 589.7C1714.9 588.6 1716.7 586.5 1718.4 585.6C1720.2 584.7 1723.7 584.1 1725 583.2C1726.3 582.2 1727.4 578.9 1728.2 578.2C1729.1 577.5 1730.4 577.4 1731.5 577.9C1732.6 578.5 1734.9 581.2 1736.4 582.3C1738 583.5 1741.2 585.8 1743 586.4C1744.7 587.1 1747.8 586.4 1749.5 587.3C1751.3 588.1 1754.6 592 1756.1 593C1757.6 594 1759 595.3 1761 594.6C1763 594 1768.6 589.6 1770.8 588.1C1773 586.5 1775.6 583.7 1777.4 583.2C1779.1 582.6 1782.4 584.3 1783.9 584C1785.5 583.7 1787.5 581.2 1788.8 580.7C1790.1 580.2 1792.4 580.8 1793.7 579.9C1795.1 579 1797.3 575.2 1798.7 574.2C1800 573.1 1802.4 572.5 1803.6 571.7C1804.8 570.9 1806.6 570 1807.7 568.4C1808.8 566.9 1810.7 562.4 1811.8 560.2C1812.9 558.1 1814.9 553.4 1815.9 552C1816.8 550.7 1818.3 549.8 1819.1 550.4C1820 551.1 1821.4 554.1 1822.4 557C1823.4 559.8 1825.3 568.4 1826.5 571.7C1827.7 575 1830.1 579.4 1831.4 581.5C1832.7 583.6 1835 586.4 1836.3 587.3C1837.6 588.1 1840.6 588 1841.2 588.1" stroke="#0c7a14" stroke-width="3.6"/>
<path d="M1052.4 595.6C1091.4 595.5 1293.3 595.2 1345 595C1396.7 594.7 1426 594.1 1440 593.8C1453.9 593.5 1447.2 593.1 1449.8 593C1452.4 592.9 1457 593.5 1459.6 593.3C1462.2 593.1 1466.8 592.2 1469.4 591.3C1472.1 590.5 1476.7 588.1 1479.3 587.3C1481.9 586.4 1486.9 585.7 1489.1 584.8C1491.3 583.9 1493.9 581.6 1495.6 580.7C1497.4 579.8 1500.5 578.6 1502.2 578.2C1503.9 577.9 1507 578.6 1508.7 578.2C1510.5 577.9 1514 576.2 1515.3 575.8C1516.6 575.4 1517.6 574.6 1518.6 575C1519.6 575.3 1521.4 577.4 1522.7 578.2C1524 579.1 1526.8 581.1 1528.4 581.5C1530 582 1533.1 582 1534.9 581.5C1536.8 581.1 1540.6 578.2 1542.3 578.2C1544.1 578.2 1546.4 580.6 1548 581.5C1549.7 582.4 1552.8 584.7 1554.6 584.8C1556.3 584.9 1559.4 583.4 1561.1 582.3C1562.9 581.2 1566.2 577.6 1567.7 576.6C1569.2 575.6 1571.3 574.9 1572.6 575C1573.9 575.1 1575.8 577 1577.5 577.4C1579.3 577.9 1583.7 577.7 1585.7 578.2C1587.7 578.8 1590.3 580.3 1592.3 581.5C1594.2 582.7 1598 586.2 1600.4 587.3C1602.8 588.3 1607.6 589.1 1610.3 589.7C1612.9 590.4 1617.5 592.3 1620.1 592.2C1622.7 592.1 1627.5 589.5 1629.9 588.9C1632.3 588.2 1636.1 587.3 1638.1 587.3C1640.1 587.3 1643.9 588.1 1645 588.9C1646.1 589.7 1645.3 592.2 1646.4 593C1647.4 593.7 1648.6 594.6 1652.9 594.6C1657.3 594.6 1672.4 593.3 1679.1 593C1685.9 592.7 1698.2 592.6 1703.7 592.2C1709.1 591.7 1716.8 590.4 1720.1 589.7C1723.3 589.1 1726.1 587.4 1728.2 587.3C1730.4 587.1 1733.8 588.3 1736.4 588.9C1739.1 589.4 1744.8 590.6 1747.9 591.3C1751 592.1 1756.5 594.6 1759.4 594.6C1762.2 594.6 1765.7 592.2 1769.2 591.3C1772.7 590.5 1781.2 588.9 1785.6 588.1C1789.9 587.2 1798.7 585.7 1801.9 584.8C1805.2 583.9 1808.2 582.2 1810.1 581.5C1812.1 580.9 1814.9 579.8 1816.7 579.9C1818.4 580 1821.5 581.2 1823.2 582.3C1825 583.4 1827.4 587.1 1829.8 588.1C1832.2 589.1 1839.7 589.5 1841.2 589.7" stroke="#20eef0" stroke-width="3.6"/>
<path d="M1080.2 593.8C1081.4 593.1 1086.5 589.9 1089.2 588.9C1091.9 587.9 1097.8 587 1100.7 586.4C1103.5 585.9 1108.5 585.2 1110.5 584.8C1112.5 584.4 1113.9 583.4 1115.4 583.5C1116.9 583.6 1120 585.6 1122 585.6C1123.9 585.7 1127.9 584.3 1130.1 584C1132.4 583.7 1136.8 583.6 1139.2 583.2C1141.6 582.7 1146.3 581.6 1148.2 580.7C1150 579.8 1152 577.4 1153.1 576.6C1154.2 575.8 1155.4 574.5 1156.3 574.6C1157.3 574.8 1159.2 576.8 1160.4 577.4C1161.6 578 1163.9 579.4 1165.4 579.1C1166.8 578.7 1169.4 576.1 1171.1 575C1172.7 573.9 1175.8 572.1 1177.6 570.9C1179.5 569.7 1183 566.4 1185 566C1187 565.5 1190.3 567.4 1192.4 567.6C1194.4 567.8 1198.4 567.9 1200.6 567.6C1202.7 567.3 1207 566.1 1208.7 565.1C1210.5 564.2 1212.6 562.4 1213.7 560.2C1214.8 558.1 1216.2 551.1 1216.9 548.8C1217.7 546.5 1218.7 543.3 1219.4 543C1220.1 542.8 1221.4 544.6 1222.2 547.1C1222.9 549.6 1224.3 558.4 1225.1 561.9C1226 565.4 1227.3 571.6 1228.4 573.3C1229.5 575.1 1232.1 575.5 1233.3 575C1234.5 574.4 1236.3 571.2 1237.4 569.2C1238.5 567.3 1240.5 561.9 1241.5 560.2C1242.5 558.6 1243.8 556.9 1244.8 557C1245.8 557.1 1247.7 559.7 1248.9 561.1C1250.1 562.4 1252.6 565.7 1253.8 566.8C1255 567.9 1256.8 569.7 1257.9 569.2C1259 568.8 1260.8 566.2 1262 563.5C1263.2 560.8 1265.6 552.7 1266.9 548.8C1268.2 544.8 1270.8 536.5 1271.8 534C1272.8 531.5 1273.4 530.4 1274.2 529.9C1275.1 529.5 1277.2 531.1 1278.3 530.8C1279.4 530.4 1281.3 527.3 1282.4 527.5C1283.5 527.7 1285.3 531 1286.5 532.4C1287.7 533.8 1290 538.1 1291.4 538.1C1292.9 538.1 1295.5 533.8 1297.2 532.4C1298.8 531 1302.2 528.7 1303.7 527.5C1305.2 526.3 1307.3 524.4 1308.6 523.4C1309.9 522.4 1312.6 522.6 1313.5 520.1C1314.5 517.6 1315.3 507.8 1316 504.6C1316.7 501.3 1317.7 496.3 1318.5 495.6C1319.2 494.8 1320.9 497.1 1321.7 498.8C1322.6 500.6 1324.1 504.6 1325 508.7C1325.9 512.7 1327.3 523.6 1328.3 529.1C1329.3 534.7 1331.3 546 1332.4 550.4C1333.5 554.8 1335.3 559.8 1336.5 561.9C1337.7 563.9 1340.2 565.2 1341.4 566C1342.5 566.7 1343.6 567.2 1345 567.6C1346.3 568 1349.8 569.4 1351.5 569.2C1353.3 569.1 1356.6 568.2 1358.1 566.8C1359.6 565.4 1361.8 561.9 1363 558.6C1364.2 555.3 1366 548.3 1367.1 542.2C1368.2 536.1 1370.1 520.4 1371.2 512.7C1372.3 505.1 1374.6 491.2 1375.3 484.9C1376 478.6 1376.1 469.8 1376.6 465.3C1377.2 460.8 1378.8 453.3 1379.5 451.1C1380.2 448.9 1381 447.9 1381.7 448.9C1382.3 450 1383.4 456.7 1384.3 458.8C1385.2 460.8 1387.6 462.2 1388.6 464.2C1389.7 466.3 1391 470.6 1391.9 474C1392.9 477.5 1395.1 487.4 1395.6 490C1396.2 492.5 1395.3 490.9 1395.9 493.1C1396.4 495.3 1398.8 503.7 1399.9 506.2C1400.9 508.7 1403 511.8 1403.9 511.9C1404.9 512 1406.4 508.9 1407.2 507C1408.1 505.2 1409.4 499.8 1410.5 498C1411.6 496.3 1414.1 495.4 1415.4 493.9C1416.7 492.4 1419.6 487.9 1420.3 486.5C1421 485.2 1420 484.9 1420.6 483.9C1421.2 482.8 1423.5 480 1424.7 478.4C1425.8 476.8 1428 471.6 1429 471.9C1430 472.2 1431.4 478.8 1432.3 480.6C1433.2 482.3 1434.7 485.2 1435.6 485C1436.4 484.7 1438 482.8 1438.8 478.4C1439.7 474 1441.2 458.9 1442.1 452.2C1443 445.5 1444.5 431.8 1445.4 428.2C1446.3 424.6 1447.8 424.4 1448.7 424.9C1449.5 425.5 1450.9 429.8 1451.9 432.6C1453 435.3 1455.1 442.3 1456.3 445.7C1457.5 449 1459.7 457.4 1460.7 457.7C1461.7 458 1463.1 451.5 1463.9 447.9C1464.8 444.2 1466.3 433.9 1467.2 430.4C1468.1 426.9 1469.6 422.2 1470.5 421.7C1471.4 421.1 1472.9 425.3 1473.8 426C1474.6 426.8 1476.2 428 1477 427.1C1477.9 426.2 1479.4 419 1480.3 419.5C1481.2 419.9 1482.7 427.2 1483.6 430.4C1484.5 433.6 1486 443.5 1486.9 443.5C1487.7 443.5 1489.3 435 1490.1 430.4C1491 425.7 1492.5 414.4 1493.4 408.6C1494.3 402.7 1496 390.1 1496.7 386.7C1497.4 383.4 1498 382.9 1498.9 383.5C1499.7 384.1 1501.9 389.7 1503.2 391.1C1504.5 392.6 1507.5 395 1508.7 394.4C1509.8 393.8 1511.1 391.5 1512 386.7C1512.8 381.9 1514.4 363.6 1515.2 358.4C1516 353.1 1517.1 347.5 1517.9 347.5C1518.6 347.5 1520 352 1520.7 358.4C1521.4 364.8 1522.3 385.9 1522.9 395.5C1523.5 405.1 1524.5 424 1525.1 430.4C1525.6 436.8 1526.4 442.5 1527.2 443.5C1528.1 444.5 1530.3 438.6 1531.6 438C1532.9 437.4 1535.9 440.1 1537.1 439.1C1538.2 438.1 1539.6 432.7 1540.3 430.4C1541.1 428.1 1541.8 421.4 1542.5 421.7C1543.2 422 1544.6 428.5 1545.3 432.6C1546.1 436.6 1547.2 446.7 1548 452.2C1548.8 457.7 1550.4 469.2 1551.2 474C1552.1 478.8 1553.9 485.5 1554.5 488.2C1555.2 491 1555.5 493.3 1556.2 494.7C1557 496.2 1559.2 498.7 1560.3 498.8C1561.4 498.9 1563.3 496.9 1564.4 495.6C1565.5 494.2 1567.7 490 1568.5 489C1569.3 488 1570 487.2 1570.6 488.2C1571.3 489.2 1572.5 492.4 1573.4 496.4C1574.3 500.3 1576 514 1577.5 517.7C1579 521.4 1583.1 521.4 1584.9 524.2C1586.6 527 1589 534.8 1590.6 538.9C1592.3 543.1 1595.6 552 1597.2 555.3C1598.7 558.6 1601.1 562.3 1602.1 563.5C1603.1 564.7 1603.7 565.2 1604.5 564.3C1605.4 563.5 1607.4 559 1608.6 557C1609.8 554.9 1612 550.6 1613.5 548.8C1615.1 546.9 1618.6 545 1620.1 543C1621.6 541.1 1623.7 537.6 1625 534C1626.3 530.4 1628.8 520.2 1629.9 516C1631 511.9 1632.5 504.9 1633.2 502.9C1633.9 501 1634.5 500 1635.2 501.3C1635.8 502.6 1637.3 507.9 1638.1 512.7C1638.9 517.6 1640.6 530.8 1641.4 537.3C1642.1 543.9 1643.4 559.7 1643.8 561.9C1644.3 564.1 1644.1 551.5 1644.7 553.7C1645.4 555.9 1647.7 573.2 1648.8 578.2C1649.9 583.3 1651.9 590 1652.9 591.3C1653.9 592.7 1655.3 589.4 1656.2 588.1C1657.1 586.8 1658.6 582.8 1659.5 581.5C1660.3 580.2 1661.5 578.7 1662.7 578.2C1664 577.8 1667.3 579.1 1668.5 578.2C1669.7 577.4 1670.8 573.4 1671.8 571.7C1672.7 570 1674.6 566.1 1675.8 565.1C1677 564.2 1679.5 565.2 1680.8 564.3C1682.1 563.5 1684.4 559.7 1685.7 558.6C1687 557.5 1689.4 556.4 1690.6 556.1C1691.8 555.9 1693.6 556.2 1694.7 557C1695.8 557.7 1697.5 560.8 1698.8 561.9C1700.1 563 1703.1 564.8 1704.5 565.1C1705.9 565.5 1708.3 566.1 1709.4 564.3C1710.5 562.6 1711.8 555 1712.7 552C1713.6 549.1 1714.9 544.4 1716 542.2C1717.1 540 1719.8 538.5 1720.9 535.7C1722 532.8 1723.4 526.2 1724.2 520.9C1724.9 515.7 1726.1 505.5 1726.6 496.4C1727.2 487.2 1727.7 460.7 1728.2 452.2C1728.7 443.7 1729.8 433.7 1730.4 432.6C1731 431.4 1732 438.5 1732.6 443.5C1733.2 448.4 1734.2 465 1734.8 469.7C1735.3 474.3 1736.4 476.7 1736.9 478.4C1737.5 480.2 1738.6 481.5 1739.1 482.8C1739.6 484.1 1740 484.6 1740.5 488.2C1741 491.7 1742.2 504.7 1743 509.5C1743.7 514.3 1745.3 521.4 1746.3 524.2C1747.2 527 1749.4 527.9 1750.4 530.8C1751.3 533.6 1752.8 540.9 1753.6 545.5C1754.5 550.1 1756 561.3 1756.9 565.1C1757.8 569 1759.3 573.7 1760.2 574.2C1761.1 574.6 1762.5 571.2 1763.5 568.4C1764.4 565.7 1766.5 558.5 1767.5 553.7C1768.6 548.9 1770.7 537.9 1771.6 532.4C1772.6 526.9 1774.2 516.9 1774.9 512.7C1775.7 508.6 1776.7 502.4 1777.4 501.3C1778 500.2 1779.2 502.4 1779.8 504.6C1780.5 506.7 1781.7 515.6 1782.3 517.7C1782.8 519.7 1783.4 521 1783.9 520.1C1784.5 519.2 1785.7 514.1 1786.4 511.1C1787 508.2 1788.2 499.2 1788.8 498C1789.5 496.8 1790.6 501 1791.3 502.1C1791.9 503.2 1793.1 506.3 1793.7 506.2C1794.4 506.1 1795.5 503.7 1796.2 501.3C1796.9 498.9 1798.2 492.5 1798.7 488.2C1799.1 483.8 1799.4 468.4 1799.8 468.6C1800.2 468.8 1801.3 485.7 1801.9 489.8C1802.5 494 1803.6 497.1 1804.4 499.6C1805.2 502.2 1806.5 507.2 1807.7 508.7C1808.9 510.1 1812.1 508.9 1813.4 510.3C1814.7 511.7 1816.3 515.9 1817.5 519.3C1818.7 522.7 1821.2 531.5 1822.4 535.7C1823.6 539.8 1825.3 547.4 1826.5 550.4C1827.7 553.5 1830.1 557 1831.4 558.6C1832.7 560.2 1835 561.9 1836.3 562.7C1837.6 563.5 1840.6 564.1 1841.2 564.3" stroke="#fa0a0a" stroke-width="3.9"/>
<path d="M1052.4 595.4C1071 595.3 1171.5 594.6 1192.4 594.3C1213.2 594 1205.5 593.4 1208.7 593C1212 592.6 1214.8 591.3 1216.9 591.3C1219.1 591.4 1222.3 593.1 1225.1 593.3C1228 593.5 1235.6 593.4 1238.2 593C1240.8 592.6 1242.6 590.6 1244.8 590.5C1247 590.4 1251.8 592.4 1254.6 592.2C1257.4 591.9 1263.7 589.8 1266.1 588.9C1268.5 588 1271.3 586.2 1272.6 585.6C1273.9 585 1274.8 584.4 1275.9 584.5C1277 584.6 1278.8 585.8 1280.8 586.4C1282.8 587.1 1287.6 589.3 1290.6 589.4C1293.7 589.5 1300.7 587.6 1303.7 587.3C1306.8 586.9 1311.6 587 1313.5 586.4C1315.5 585.9 1316.7 583.8 1318.5 583.2C1320.2 582.5 1324.7 581.2 1326.6 581.5C1328.6 581.9 1330.7 584.7 1333.2 585.6C1335.6 586.5 1342.3 587.6 1345 588.1C1347.6 588.5 1350.8 588.8 1353.2 588.9C1355.6 589 1360.8 589.2 1363 588.9C1365.2 588.6 1367.9 587.6 1369.6 586.4C1371.2 585.2 1373.9 581.4 1375.3 579.9C1376.7 578.4 1379 575.6 1380.2 575C1381.4 574.4 1383.1 575 1384.3 575.3C1385.5 575.6 1387.7 576.5 1389.2 577.4C1390.7 578.4 1393.9 581.2 1395.8 582.3C1397.6 583.4 1401.5 585.6 1403.1 585.6C1404.8 585.6 1406.4 583 1408 582.3C1409.7 581.7 1413.6 581.4 1415.4 580.7C1417.3 580 1420.2 578.3 1422 577.4C1423.7 576.6 1427.1 574.2 1428.5 574.2C1429.9 574.2 1431.5 576.9 1432.6 577.4C1433.7 578 1435.6 578.7 1436.7 578.2C1437.8 577.8 1439.7 575.7 1440.8 574.2C1441.9 572.6 1443.8 568.1 1444.9 566.8C1446 565.5 1447.5 564.6 1449 564.3C1450.5 564.1 1454.7 564.7 1456.3 564.8C1458 564.9 1460 566 1461.3 565.1C1462.6 564.3 1464.9 560.3 1466.2 558.6C1467.5 556.9 1469.8 553.4 1471.1 552C1472.4 550.7 1474.7 550.2 1476 548.8C1477.3 547.4 1479.8 542.2 1480.9 541.4C1482 540.6 1483.2 542.2 1484.2 543C1485.2 543.9 1487.2 548.3 1488.3 548C1489.4 547.6 1491.2 543.1 1492.4 540.6C1493.6 538.1 1496.2 531 1497.3 529.1C1498.4 527.3 1499.6 527.1 1500.6 526.7C1501.5 526.2 1503.5 526.8 1504.7 525.8C1505.9 524.9 1508.4 521.9 1509.6 519.3C1510.8 516.7 1512.6 510.8 1513.7 506.2C1514.8 501.6 1517.2 488.3 1517.8 484.9C1518.3 481.5 1517.8 481.6 1518 480.6C1518.2 479.6 1519.1 477 1519.6 477.3C1520.1 477.6 1521.3 480.2 1521.8 482.8C1522.3 485.3 1522.9 492.8 1523.5 496.4C1524 499.9 1525.3 509.5 1525.9 509.5C1526.6 509.5 1527.6 500.2 1528.4 496.4C1529.2 492.5 1530.4 483.7 1531.6 480.6C1532.8 477.5 1535.9 476.7 1537.1 473C1538.2 469.2 1539.5 456.4 1540.3 452.2C1541.1 448 1542.5 440.7 1543.2 441.3C1543.8 441.9 1544.7 451.6 1545.3 456.6C1546 461.5 1547.1 474 1548 478.4C1548.9 482.8 1551.3 487.9 1552.1 489.8C1553 491.8 1553.8 493.3 1554.6 493.1C1555.4 492.9 1557 489.9 1557.9 488.2C1558.7 486.5 1560.1 483.1 1561.1 480.6C1562.1 478.1 1564.4 473.2 1565.4 469.7C1566.4 466.2 1567.8 458.5 1568.7 454.4C1569.6 450.3 1571.2 440.6 1572 439.1C1572.7 437.7 1573.4 440.6 1574.2 443.5C1574.9 446.4 1576.7 457.9 1577.4 460.9C1578.2 464 1578.7 466 1579.6 466.4C1580.5 466.8 1582.8 463.8 1584 464.2C1585.1 464.7 1587.2 467.9 1588.3 469.7C1589.5 471.4 1591.4 473.8 1592.7 477.3C1594 480.9 1596.8 492.1 1598 496.4C1599.1 500.7 1600.5 507.2 1601.3 509.5C1602 511.8 1603.1 513.6 1603.7 513.6C1604.4 513.6 1605.4 511.5 1606.2 509.5C1606.9 507.4 1608.2 499.8 1609.5 498C1610.7 496.3 1613.8 497.7 1615.2 496.4C1616.6 495.1 1619 490.6 1620.1 488.2C1621.2 485.8 1622.3 483.2 1623.3 478.4C1624.3 473.6 1626.5 459.5 1627.6 452.2C1628.8 444.9 1631 429.1 1632 423.8C1633 418.6 1634.4 413.8 1635.3 412.9C1636.1 412.1 1637.7 416.1 1638.5 417.3C1639.4 418.5 1641.2 420.8 1641.8 421.7C1642.4 422.5 1642.6 422.1 1643.1 423.8C1643.6 425.6 1645.1 429.2 1645.7 434.8C1646.4 440.3 1647.5 454.9 1647.9 465.3C1648.3 475.7 1648.4 501.6 1648.8 512.7C1649.3 523.9 1650.6 541.9 1651.3 548.8C1651.9 555.7 1653.1 563.7 1653.7 564.3C1654.4 565 1655.5 558.8 1656.2 553.7C1656.9 548.6 1658 532.4 1658.7 525.8C1659.3 519.3 1660.6 507.7 1661.1 504.6C1661.7 501.4 1662.2 501.7 1662.7 502.1C1663.3 502.5 1664.6 506.2 1665.2 507.8C1665.9 509.5 1667.1 514 1667.7 514.4C1668.2 514.8 1668.9 513.5 1669.3 511.1C1669.7 508.7 1670.5 500.5 1670.9 496.4C1671.4 492.2 1672.2 484.7 1672.6 480C1672.9 475.3 1673.2 465.2 1673.6 460.9C1674.1 456.7 1675.4 450.2 1676.3 447.9C1677.1 445.5 1679.2 447.6 1680.2 443.5C1681.2 439.4 1682.6 424.9 1683.5 417.3C1684.3 409.7 1686 392 1686.7 386.7C1687.5 381.5 1688.6 378.7 1689.4 378C1690.1 377.3 1691.4 379.5 1692.2 381.3C1693 383 1694.6 386.3 1695.5 391.1C1696.3 395.9 1698 412.1 1698.7 417.3C1699.5 422.5 1700.2 428.1 1700.9 430.4C1701.7 432.7 1703.5 432.4 1704.2 434.8C1704.9 437.1 1705.9 445.4 1706.4 447.9C1706.9 450.3 1707.6 453.6 1708.1 453.3C1708.7 453 1709.7 450.5 1710.3 445.7C1711 440.9 1712.1 427.5 1712.9 417.3C1713.7 407.1 1715.3 378.6 1716.2 369.3C1717.1 360 1718.6 356.4 1719.5 347.5C1720.4 338.6 1722.4 315.4 1723.1 302.6C1723.9 289.8 1724.7 264.6 1725.2 251.4C1725.6 238.2 1726.3 213.1 1726.6 203.3C1726.9 193.5 1725.6 181.1 1727.4 177.7C1729.2 174.3 1738.5 174.3 1740.3 177.7C1742.1 181.1 1740.8 193.5 1741.1 203.3C1741.4 213.1 1742.1 238.2 1742.6 251.4C1743 264.6 1743.9 290 1744.6 302.6C1745.3 315.1 1747 337.8 1747.9 345.3C1748.7 352.7 1750.4 353.1 1751.1 358.4C1751.9 363.6 1752.8 376.7 1753.3 384.6C1753.8 392.4 1754.5 407.1 1754.8 417.3C1755.2 427.5 1755.9 448.2 1756.1 460.9C1756.4 473.7 1756.1 501.5 1756.4 512.7C1756.7 524 1758 539.6 1758.5 545.5C1759.1 551.4 1760.1 556.1 1760.7 557C1761.2 557.8 1761.9 554.7 1762.6 552C1763.3 549.4 1764.8 542.6 1765.9 537.3C1767 532.1 1769.9 518.4 1770.8 512.7C1771.8 507.1 1772.2 499.9 1772.9 494.6C1773.6 489.3 1775.5 476.3 1776.2 472.8C1776.9 469.2 1777.8 467.8 1778.4 467.8C1779 467.8 1780 470.2 1780.6 472.8C1781.1 475.3 1782.2 484.2 1782.8 486.9C1783.3 489.7 1784.4 493.6 1784.9 493.5C1785.5 493.3 1786.6 487.4 1787.1 485.9C1787.6 484.3 1788.3 481.9 1788.8 482C1789.2 482.2 1790 484.7 1790.4 486.9C1790.8 489.2 1791.6 496.8 1792 499C1792.5 501.1 1793.2 503.3 1793.7 503.3C1794.1 503.3 1794.9 501.6 1795.3 499C1795.7 496.3 1796.5 486.7 1796.9 483.7C1797.4 480.6 1798.1 476.9 1798.6 476C1799 475.2 1799.7 476.1 1800.2 477.1C1800.7 478.1 1801.7 481.3 1802.4 483.7C1803.1 486 1804.9 492.5 1805.7 494.6C1806.5 496.6 1807.7 499.2 1808.4 499C1809.1 498.7 1810.3 494.7 1811.1 492.4C1811.9 490.1 1813.6 483.7 1814.4 481.5C1815.2 479.2 1816.6 476.4 1817.1 475.5C1817.7 474.6 1818.3 474.4 1818.8 474.7C1819.3 475 1820.4 476.2 1821 477.7C1821.5 479.1 1822.6 482.7 1823.1 485.9C1823.7 489 1824.7 496.6 1825.3 501.1C1825.9 505.7 1826.7 513.7 1827.5 520C1828.3 526.4 1830.2 543.4 1831.4 548.8C1832.6 554.1 1835 558.3 1836.3 560.2C1837.6 562.2 1840.6 563.1 1841.2 563.5" stroke="#0a0af5" stroke-width="3.9"/>
</g>
<line x1="1052.2" y1="4.6" x2="1052.2" y2="618" stroke="#000" stroke-width="3.6" stroke-linecap="butt"/>
<line x1="1841.6" y1="4.6" x2="1841.6" y2="608.3" stroke="#000" stroke-width="3.6" stroke-linecap="butt"/>
<line x1="1050.4" y1="6.4" x2="1843.4" y2="6.4" stroke="#000" stroke-width="3.6" stroke-linecap="butt"/>
<line x1="1039.7" y1="44.5" x2="1052.2" y2="44.5" stroke="#000" stroke-width="3.4" stroke-linecap="butt"/>
<line x1="1045.2" y1="84" x2="1052.2" y2="84" stroke="#000" stroke-width="3.4" stroke-linecap="butt"/>
<line x1="1039.7" y1="123.6" x2="1052.2" y2="123.6" stroke="#000" stroke-width="3.4" stroke-linecap="butt"/>
<line x1="1045.2" y1="163.2" x2="1052.2" y2="163.2" stroke="#000" stroke-width="3.4" stroke-linecap="butt"/>
<line x1="1039.7" y1="202.6" x2="1052.2" y2="202.6" stroke="#000" stroke-width="3.4" stroke-linecap="butt"/>
<line x1="1039.7" y1="280.6" x2="1052.2" y2="280.6" stroke="#000" stroke-width="3.4" stroke-linecap="butt"/>
<line x1="1045.2" y1="359.3" x2="1052.2" y2="359.3" stroke="#000" stroke-width="3.4" stroke-linecap="butt"/>
<line x1="1039.7" y1="438" x2="1052.2" y2="438" stroke="#000" stroke-width="3.4" stroke-linecap="butt"/>
<line x1="1045.2" y1="516.8" x2="1052.2" y2="516.8" stroke="#000" stroke-width="3.4" stroke-linecap="butt"/>
<line x1="1039.7" y1="595.5" x2="1052.2" y2="595.5" stroke="#000" stroke-width="3.4" stroke-linecap="butt"/>
<text x="1033" y="57.5" font-size="46" text-anchor="end" font-family="'Liberation Sans', Arial, Helvetica, sans-serif" font-weight="bold" >4</text>
<text x="1033" y="139.5" font-size="46" text-anchor="end" font-family="'Liberation Sans', Arial, Helvetica, sans-serif" font-weight="bold" >2</text>
<text x="1033" y="218" font-size="46" text-anchor="end" font-family="'Liberation Sans', Arial, Helvetica, sans-serif" font-weight="bold" >0</text>
<text x="1033" y="296" font-size="46" text-anchor="end" font-family="'Liberation Sans', Arial, Helvetica, sans-serif" font-weight="bold" >2</text>
<text x="1033" y="453.5" font-size="46" text-anchor="end" font-family="'Liberation Sans', Arial, Helvetica, sans-serif" font-weight="bold" >1</text>
<text x="1033" y="607.8" font-size="46" text-anchor="end" font-family="'Liberation Sans', Arial, Helvetica, sans-serif" font-weight="bold" >0</text>
<text x="1052.5" y="664.8" font-size="45" text-anchor="middle" font-family="'Liberation Sans', Arial, Helvetica, sans-serif" font-weight="bold" >-16</text>
<text x="1202.9" y="664.8" font-size="45" text-anchor="middle" font-family="'Liberation Sans', Arial, Helvetica, sans-serif" font-weight="bold" >-12</text>
<text x="1353.3" y="664.8" font-size="45" text-anchor="middle" font-family="'Liberation Sans', Arial, Helvetica, sans-serif" font-weight="bold" >-8</text>
<text x="1503.7" y="664.8" font-size="45" text-anchor="middle" font-family="'Liberation Sans', Arial, Helvetica, sans-serif" font-weight="bold" >-4</text>
<text x="1654.1" y="664.8" font-size="45" text-anchor="middle" font-family="'Liberation Sans', Arial, Helvetica, sans-serif" font-weight="bold" >0</text>
<text x="1804.5" y="664.8" font-size="45" text-anchor="middle" font-family="'Liberation Sans', Arial, Helvetica, sans-serif" font-weight="bold" >4</text>
<text x="1324.5" y="708.5" font-size="44" text-anchor="start" font-family="'Liberation Sans', Arial, Helvetica, sans-serif" font-weight="bold" >Energy (eV)</text>
<text transform="translate(975.2 491.5) rotate(-90) scale(0.95 1)" font-size="46.5" text-anchor="start" x="0.7 34.7 67 98.4 110.8 126.6 150.7 165.5 193.2 210.6 238.1 263.1 276.3 302.7 329.4 345 363.7 379.6 410.4 428.2" y="0" font-family="'Liberation Sans', Arial, Helvetica, sans-serif" font-weight="bold">DOS (states/ev/f.u.)</text>
<text x="949" y="48.5" font-size="56" font-family="'Liberation Serif', 'Times New Roman', serif" font-weight="bold">b</text>
<line x1="1074" y1="39.6" x2="1136.5" y2="39.6" stroke="#0a0606" stroke-width="3.6" stroke-linecap="round"/>
<text x="1146" y="49.2" font-size="35" text-anchor="start" font-family="'Liberation Sans', Arial, Helvetica, sans-serif" font-weight="bold" font-style="italic">Total</text>
<line x1="1074.5" y1="295" x2="1136" y2="295" stroke="#0c7a14" stroke-width="4.8" stroke-linecap="round"/>
<text x="1145.5" y="303.4" font-size="33.5" text-anchor="start" letter-spacing="0.6" style="font-kerning:none" font-family="'Liberation Sans', Arial, Helvetica, sans-serif" font-weight="bold">B-<tspan font-style="italic">s</tspan></text>
<line x1="1074.5" y1="338.6" x2="1136" y2="338.6" stroke="#fa0a0a" stroke-width="4.8" stroke-linecap="round"/>
<text x="1145.5" y="347" font-size="33.5" text-anchor="start" letter-spacing="0.6" style="font-kerning:none" font-family="'Liberation Sans', Arial, Helvetica, sans-serif" font-weight="bold">B-<tspan font-style="italic">p</tspan></text>
<line x1="1074.5" y1="382.2" x2="1136" y2="382.2" stroke="#20eef0" stroke-width="4.8" stroke-linecap="round"/>
<text x="1145.5" y="390.6" font-size="33.5" text-anchor="start" letter-spacing="0.6" style="font-kerning:none" font-family="'Liberation Sans', Arial, Helvetica, sans-serif" font-weight="bold">V-<tspan font-style="italic">p</tspan></text>
<line x1="1074.5" y1="425" x2="1136" y2="425" stroke="#0a0af5" stroke-width="4.8" stroke-linecap="round"/>
<text x="1145.5" y="433.4" font-size="33.5" text-anchor="start" letter-spacing="0.6" style="font-kerning:none" font-family="'Liberation Sans', Arial, Helvetica, sans-serif" font-weight="bold">V-<tspan font-style="italic">d</tspan></text>
</svg>
</body></html>
